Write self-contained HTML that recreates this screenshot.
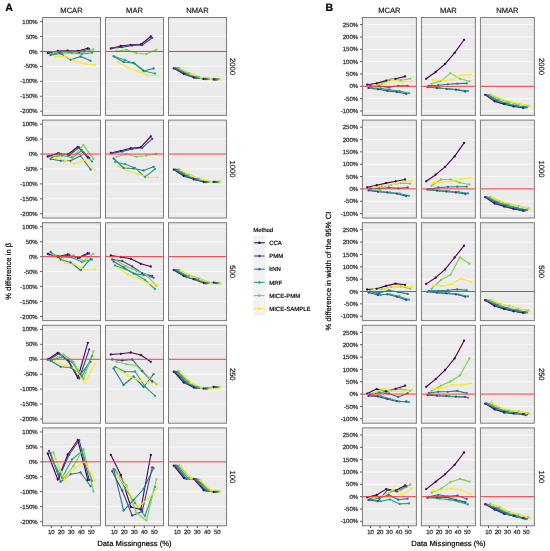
<!DOCTYPE html><html><head><meta charset="utf-8"><title>Figure</title><style>html,body{margin:0;padding:0;background:#fff;width:550px;height:551px;overflow:hidden}svg{display:block}text{font-family:"Liberation Sans", Arial, Helvetica, sans-serif;text-rendering:geometricPrecision}text{stroke-linejoin:round}.t{stroke:#3d3d3d;stroke-width:0.28}.s{stroke:#1A1A1A;stroke-width:0.2}.k{stroke:#000;stroke-width:0.18}</style></head><body>
<svg width="550" height="551" viewBox="0 0 550 551">
<rect width="550" height="551" fill="#fff"/>
<rect x="42.5" y="17.5" width="58" height="97.9" fill="#EBEBEB"/>
<line x1="42.5" x2="100.5" y1="21.57" y2="21.57" stroke="#FAFAFA" stroke-width="1"/>
<line x1="42.5" x2="100.5" y1="36.51" y2="36.51" stroke="#FAFAFA" stroke-width="1"/>
<line x1="42.5" x2="100.5" y1="51.45" y2="51.45" stroke="#FAFAFA" stroke-width="1"/>
<line x1="42.5" x2="100.5" y1="66.39" y2="66.39" stroke="#FAFAFA" stroke-width="1"/>
<line x1="42.5" x2="100.5" y1="81.33" y2="81.33" stroke="#FAFAFA" stroke-width="1"/>
<line x1="42.5" x2="100.5" y1="96.27" y2="96.27" stroke="#FAFAFA" stroke-width="1"/>
<line x1="42.5" x2="100.5" y1="111.21" y2="111.21" stroke="#FAFAFA" stroke-width="1"/>
<rect x="105.5" y="17.5" width="58" height="97.9" fill="#EBEBEB"/>
<line x1="105.5" x2="163.5" y1="21.57" y2="21.57" stroke="#FAFAFA" stroke-width="1"/>
<line x1="105.5" x2="163.5" y1="36.51" y2="36.51" stroke="#FAFAFA" stroke-width="1"/>
<line x1="105.5" x2="163.5" y1="51.45" y2="51.45" stroke="#FAFAFA" stroke-width="1"/>
<line x1="105.5" x2="163.5" y1="66.39" y2="66.39" stroke="#FAFAFA" stroke-width="1"/>
<line x1="105.5" x2="163.5" y1="81.33" y2="81.33" stroke="#FAFAFA" stroke-width="1"/>
<line x1="105.5" x2="163.5" y1="96.27" y2="96.27" stroke="#FAFAFA" stroke-width="1"/>
<line x1="105.5" x2="163.5" y1="111.21" y2="111.21" stroke="#FAFAFA" stroke-width="1"/>
<rect x="168.5" y="17.5" width="58" height="97.9" fill="#EBEBEB"/>
<line x1="168.5" x2="226.5" y1="21.57" y2="21.57" stroke="#FAFAFA" stroke-width="1"/>
<line x1="168.5" x2="226.5" y1="36.51" y2="36.51" stroke="#FAFAFA" stroke-width="1"/>
<line x1="168.5" x2="226.5" y1="51.45" y2="51.45" stroke="#FAFAFA" stroke-width="1"/>
<line x1="168.5" x2="226.5" y1="66.39" y2="66.39" stroke="#FAFAFA" stroke-width="1"/>
<line x1="168.5" x2="226.5" y1="81.33" y2="81.33" stroke="#FAFAFA" stroke-width="1"/>
<line x1="168.5" x2="226.5" y1="96.27" y2="96.27" stroke="#FAFAFA" stroke-width="1"/>
<line x1="168.5" x2="226.5" y1="111.21" y2="111.21" stroke="#FAFAFA" stroke-width="1"/>
<rect x="42.5" y="120.1" width="58" height="97.9" fill="#EBEBEB"/>
<line x1="42.5" x2="100.5" y1="124.17" y2="124.17" stroke="#FAFAFA" stroke-width="1"/>
<line x1="42.5" x2="100.5" y1="139.11" y2="139.11" stroke="#FAFAFA" stroke-width="1"/>
<line x1="42.5" x2="100.5" y1="154.05" y2="154.05" stroke="#FAFAFA" stroke-width="1"/>
<line x1="42.5" x2="100.5" y1="168.99" y2="168.99" stroke="#FAFAFA" stroke-width="1"/>
<line x1="42.5" x2="100.5" y1="183.93" y2="183.93" stroke="#FAFAFA" stroke-width="1"/>
<line x1="42.5" x2="100.5" y1="198.87" y2="198.87" stroke="#FAFAFA" stroke-width="1"/>
<line x1="42.5" x2="100.5" y1="213.81" y2="213.81" stroke="#FAFAFA" stroke-width="1"/>
<rect x="105.5" y="120.1" width="58" height="97.9" fill="#EBEBEB"/>
<line x1="105.5" x2="163.5" y1="124.17" y2="124.17" stroke="#FAFAFA" stroke-width="1"/>
<line x1="105.5" x2="163.5" y1="139.11" y2="139.11" stroke="#FAFAFA" stroke-width="1"/>
<line x1="105.5" x2="163.5" y1="154.05" y2="154.05" stroke="#FAFAFA" stroke-width="1"/>
<line x1="105.5" x2="163.5" y1="168.99" y2="168.99" stroke="#FAFAFA" stroke-width="1"/>
<line x1="105.5" x2="163.5" y1="183.93" y2="183.93" stroke="#FAFAFA" stroke-width="1"/>
<line x1="105.5" x2="163.5" y1="198.87" y2="198.87" stroke="#FAFAFA" stroke-width="1"/>
<line x1="105.5" x2="163.5" y1="213.81" y2="213.81" stroke="#FAFAFA" stroke-width="1"/>
<rect x="168.5" y="120.1" width="58" height="97.9" fill="#EBEBEB"/>
<line x1="168.5" x2="226.5" y1="124.17" y2="124.17" stroke="#FAFAFA" stroke-width="1"/>
<line x1="168.5" x2="226.5" y1="139.11" y2="139.11" stroke="#FAFAFA" stroke-width="1"/>
<line x1="168.5" x2="226.5" y1="154.05" y2="154.05" stroke="#FAFAFA" stroke-width="1"/>
<line x1="168.5" x2="226.5" y1="168.99" y2="168.99" stroke="#FAFAFA" stroke-width="1"/>
<line x1="168.5" x2="226.5" y1="183.93" y2="183.93" stroke="#FAFAFA" stroke-width="1"/>
<line x1="168.5" x2="226.5" y1="198.87" y2="198.87" stroke="#FAFAFA" stroke-width="1"/>
<line x1="168.5" x2="226.5" y1="213.81" y2="213.81" stroke="#FAFAFA" stroke-width="1"/>
<rect x="42.5" y="222.7" width="58" height="97.9" fill="#EBEBEB"/>
<line x1="42.5" x2="100.5" y1="226.77" y2="226.77" stroke="#FAFAFA" stroke-width="1"/>
<line x1="42.5" x2="100.5" y1="241.71" y2="241.71" stroke="#FAFAFA" stroke-width="1"/>
<line x1="42.5" x2="100.5" y1="256.65" y2="256.65" stroke="#FAFAFA" stroke-width="1"/>
<line x1="42.5" x2="100.5" y1="271.59" y2="271.59" stroke="#FAFAFA" stroke-width="1"/>
<line x1="42.5" x2="100.5" y1="286.53" y2="286.53" stroke="#FAFAFA" stroke-width="1"/>
<line x1="42.5" x2="100.5" y1="301.47" y2="301.47" stroke="#FAFAFA" stroke-width="1"/>
<line x1="42.5" x2="100.5" y1="316.41" y2="316.41" stroke="#FAFAFA" stroke-width="1"/>
<rect x="105.5" y="222.7" width="58" height="97.9" fill="#EBEBEB"/>
<line x1="105.5" x2="163.5" y1="226.77" y2="226.77" stroke="#FAFAFA" stroke-width="1"/>
<line x1="105.5" x2="163.5" y1="241.71" y2="241.71" stroke="#FAFAFA" stroke-width="1"/>
<line x1="105.5" x2="163.5" y1="256.65" y2="256.65" stroke="#FAFAFA" stroke-width="1"/>
<line x1="105.5" x2="163.5" y1="271.59" y2="271.59" stroke="#FAFAFA" stroke-width="1"/>
<line x1="105.5" x2="163.5" y1="286.53" y2="286.53" stroke="#FAFAFA" stroke-width="1"/>
<line x1="105.5" x2="163.5" y1="301.47" y2="301.47" stroke="#FAFAFA" stroke-width="1"/>
<line x1="105.5" x2="163.5" y1="316.41" y2="316.41" stroke="#FAFAFA" stroke-width="1"/>
<rect x="168.5" y="222.7" width="58" height="97.9" fill="#EBEBEB"/>
<line x1="168.5" x2="226.5" y1="226.77" y2="226.77" stroke="#FAFAFA" stroke-width="1"/>
<line x1="168.5" x2="226.5" y1="241.71" y2="241.71" stroke="#FAFAFA" stroke-width="1"/>
<line x1="168.5" x2="226.5" y1="256.65" y2="256.65" stroke="#FAFAFA" stroke-width="1"/>
<line x1="168.5" x2="226.5" y1="271.59" y2="271.59" stroke="#FAFAFA" stroke-width="1"/>
<line x1="168.5" x2="226.5" y1="286.53" y2="286.53" stroke="#FAFAFA" stroke-width="1"/>
<line x1="168.5" x2="226.5" y1="301.47" y2="301.47" stroke="#FAFAFA" stroke-width="1"/>
<line x1="168.5" x2="226.5" y1="316.41" y2="316.41" stroke="#FAFAFA" stroke-width="1"/>
<rect x="42.5" y="325.3" width="58" height="97.9" fill="#EBEBEB"/>
<line x1="42.5" x2="100.5" y1="329.37" y2="329.37" stroke="#FAFAFA" stroke-width="1"/>
<line x1="42.5" x2="100.5" y1="344.31" y2="344.31" stroke="#FAFAFA" stroke-width="1"/>
<line x1="42.5" x2="100.5" y1="359.25" y2="359.25" stroke="#FAFAFA" stroke-width="1"/>
<line x1="42.5" x2="100.5" y1="374.19" y2="374.19" stroke="#FAFAFA" stroke-width="1"/>
<line x1="42.5" x2="100.5" y1="389.13" y2="389.13" stroke="#FAFAFA" stroke-width="1"/>
<line x1="42.5" x2="100.5" y1="404.07" y2="404.07" stroke="#FAFAFA" stroke-width="1"/>
<line x1="42.5" x2="100.5" y1="419.01" y2="419.01" stroke="#FAFAFA" stroke-width="1"/>
<rect x="105.5" y="325.3" width="58" height="97.9" fill="#EBEBEB"/>
<line x1="105.5" x2="163.5" y1="329.37" y2="329.37" stroke="#FAFAFA" stroke-width="1"/>
<line x1="105.5" x2="163.5" y1="344.31" y2="344.31" stroke="#FAFAFA" stroke-width="1"/>
<line x1="105.5" x2="163.5" y1="359.25" y2="359.25" stroke="#FAFAFA" stroke-width="1"/>
<line x1="105.5" x2="163.5" y1="374.19" y2="374.19" stroke="#FAFAFA" stroke-width="1"/>
<line x1="105.5" x2="163.5" y1="389.13" y2="389.13" stroke="#FAFAFA" stroke-width="1"/>
<line x1="105.5" x2="163.5" y1="404.07" y2="404.07" stroke="#FAFAFA" stroke-width="1"/>
<line x1="105.5" x2="163.5" y1="419.01" y2="419.01" stroke="#FAFAFA" stroke-width="1"/>
<rect x="168.5" y="325.3" width="58" height="97.9" fill="#EBEBEB"/>
<line x1="168.5" x2="226.5" y1="329.37" y2="329.37" stroke="#FAFAFA" stroke-width="1"/>
<line x1="168.5" x2="226.5" y1="344.31" y2="344.31" stroke="#FAFAFA" stroke-width="1"/>
<line x1="168.5" x2="226.5" y1="359.25" y2="359.25" stroke="#FAFAFA" stroke-width="1"/>
<line x1="168.5" x2="226.5" y1="374.19" y2="374.19" stroke="#FAFAFA" stroke-width="1"/>
<line x1="168.5" x2="226.5" y1="389.13" y2="389.13" stroke="#FAFAFA" stroke-width="1"/>
<line x1="168.5" x2="226.5" y1="404.07" y2="404.07" stroke="#FAFAFA" stroke-width="1"/>
<line x1="168.5" x2="226.5" y1="419.01" y2="419.01" stroke="#FAFAFA" stroke-width="1"/>
<rect x="42.5" y="427.9" width="58" height="97.9" fill="#EBEBEB"/>
<line x1="42.5" x2="100.5" y1="431.97" y2="431.97" stroke="#FAFAFA" stroke-width="1"/>
<line x1="42.5" x2="100.5" y1="446.91" y2="446.91" stroke="#FAFAFA" stroke-width="1"/>
<line x1="42.5" x2="100.5" y1="461.85" y2="461.85" stroke="#FAFAFA" stroke-width="1"/>
<line x1="42.5" x2="100.5" y1="476.79" y2="476.79" stroke="#FAFAFA" stroke-width="1"/>
<line x1="42.5" x2="100.5" y1="491.73" y2="491.73" stroke="#FAFAFA" stroke-width="1"/>
<line x1="42.5" x2="100.5" y1="506.67" y2="506.67" stroke="#FAFAFA" stroke-width="1"/>
<line x1="42.5" x2="100.5" y1="521.61" y2="521.61" stroke="#FAFAFA" stroke-width="1"/>
<rect x="105.5" y="427.9" width="58" height="97.9" fill="#EBEBEB"/>
<line x1="105.5" x2="163.5" y1="431.97" y2="431.97" stroke="#FAFAFA" stroke-width="1"/>
<line x1="105.5" x2="163.5" y1="446.91" y2="446.91" stroke="#FAFAFA" stroke-width="1"/>
<line x1="105.5" x2="163.5" y1="461.85" y2="461.85" stroke="#FAFAFA" stroke-width="1"/>
<line x1="105.5" x2="163.5" y1="476.79" y2="476.79" stroke="#FAFAFA" stroke-width="1"/>
<line x1="105.5" x2="163.5" y1="491.73" y2="491.73" stroke="#FAFAFA" stroke-width="1"/>
<line x1="105.5" x2="163.5" y1="506.67" y2="506.67" stroke="#FAFAFA" stroke-width="1"/>
<line x1="105.5" x2="163.5" y1="521.61" y2="521.61" stroke="#FAFAFA" stroke-width="1"/>
<rect x="168.5" y="427.9" width="58" height="97.9" fill="#EBEBEB"/>
<line x1="168.5" x2="226.5" y1="431.97" y2="431.97" stroke="#FAFAFA" stroke-width="1"/>
<line x1="168.5" x2="226.5" y1="446.91" y2="446.91" stroke="#FAFAFA" stroke-width="1"/>
<line x1="168.5" x2="226.5" y1="461.85" y2="461.85" stroke="#FAFAFA" stroke-width="1"/>
<line x1="168.5" x2="226.5" y1="476.79" y2="476.79" stroke="#FAFAFA" stroke-width="1"/>
<line x1="168.5" x2="226.5" y1="491.73" y2="491.73" stroke="#FAFAFA" stroke-width="1"/>
<line x1="168.5" x2="226.5" y1="506.67" y2="506.67" stroke="#FAFAFA" stroke-width="1"/>
<line x1="168.5" x2="226.5" y1="521.61" y2="521.61" stroke="#FAFAFA" stroke-width="1"/>
<polyline fill="none" stroke="#440154" stroke-width="1.1" stroke-linejoin="round" points="47.8,53 57.8,51 67.8,50.7 77.8,51 87.8,48.3"/>
<polyline fill="none" stroke="#414487" stroke-width="1.1" stroke-linejoin="round" points="49.2,52.8 59.2,52 69.2,51.5 79.2,52 89.2,49"/>
<polyline fill="none" stroke="#2A788E" stroke-width="1.1" stroke-linejoin="round" points="50.6,55 60.6,53.5 70.6,59.8 80.6,56.5 90.6,60.8"/>
<polyline fill="none" stroke="#22A884" stroke-width="1.1" stroke-linejoin="round" points="52,54 62,53 72,53 82,54 92,52.8"/>
<polyline fill="none" stroke="#7AD151" stroke-width="1.1" stroke-linejoin="round" points="53.4,53 63.4,52.5 73.4,53 83.4,52.5 93.4,49.5"/>
<polyline fill="none" stroke="#FDE725" stroke-width="1.1" stroke-linejoin="round" points="54.8,56.7 64.8,56.2 74.8,61.2 84.8,63.7 94.8,65"/>
<circle cx="47.8" cy="53" r="1.15" fill="#440154"/>
<circle cx="57.8" cy="51" r="1.15" fill="#440154"/>
<circle cx="67.8" cy="50.7" r="1.15" fill="#440154"/>
<circle cx="77.8" cy="51" r="1.15" fill="#440154"/>
<circle cx="87.8" cy="48.3" r="1.15" fill="#440154"/>
<circle cx="49.2" cy="52.8" r="1.15" fill="#414487"/>
<circle cx="59.2" cy="52" r="1.15" fill="#414487"/>
<circle cx="69.2" cy="51.5" r="1.15" fill="#414487"/>
<circle cx="79.2" cy="52" r="1.15" fill="#414487"/>
<circle cx="89.2" cy="49" r="1.15" fill="#414487"/>
<circle cx="50.6" cy="55" r="1.15" fill="#2A788E"/>
<circle cx="60.6" cy="53.5" r="1.15" fill="#2A788E"/>
<circle cx="70.6" cy="59.8" r="1.15" fill="#2A788E"/>
<circle cx="80.6" cy="56.5" r="1.15" fill="#2A788E"/>
<circle cx="90.6" cy="60.8" r="1.15" fill="#2A788E"/>
<circle cx="52" cy="54" r="1.15" fill="#22A884"/>
<circle cx="62" cy="53" r="1.15" fill="#22A884"/>
<circle cx="72" cy="53" r="1.15" fill="#22A884"/>
<circle cx="82" cy="54" r="1.15" fill="#22A884"/>
<circle cx="92" cy="52.8" r="1.15" fill="#22A884"/>
<circle cx="53.4" cy="53" r="1.15" fill="#7AD151"/>
<circle cx="63.4" cy="52.5" r="1.15" fill="#7AD151"/>
<circle cx="73.4" cy="53" r="1.15" fill="#7AD151"/>
<circle cx="83.4" cy="52.5" r="1.15" fill="#7AD151"/>
<circle cx="93.4" cy="49.5" r="1.15" fill="#7AD151"/>
<circle cx="54.8" cy="56.7" r="1.15" fill="#FDE725"/>
<circle cx="64.8" cy="56.2" r="1.15" fill="#FDE725"/>
<circle cx="74.8" cy="61.2" r="1.15" fill="#FDE725"/>
<circle cx="84.8" cy="63.7" r="1.15" fill="#FDE725"/>
<circle cx="94.8" cy="65" r="1.15" fill="#FDE725"/>
<polyline fill="none" stroke="#440154" stroke-width="1.1" stroke-linejoin="round" points="110.8,48.5 120.8,46 130.8,44.8 140.8,44.5 150.8,36.5"/>
<polyline fill="none" stroke="#414487" stroke-width="1.1" stroke-linejoin="round" points="112.2,48.2 122.2,47.2 132.2,45.5 142.2,45 152.2,37.8"/>
<polyline fill="none" stroke="#2A788E" stroke-width="1.1" stroke-linejoin="round" points="113.6,56.2 123.6,62 133.6,63 143.6,71 153.6,68.5"/>
<polyline fill="none" stroke="#22A884" stroke-width="1.1" stroke-linejoin="round" points="115,56.8 125,60 135,64 145,71.2 155,73.5"/>
<polyline fill="none" stroke="#7AD151" stroke-width="1.1" stroke-linejoin="round" points="116.4,51.2 126.4,49.8 136.4,53.2 146.4,54 156.4,49.8"/>
<polyline fill="none" stroke="#FDE725" stroke-width="1.1" stroke-linejoin="round" points="117.8,62.2 127.8,67.5 137.8,71.5 147.8,75.2 157.8,75.8"/>
<circle cx="110.8" cy="48.5" r="1.15" fill="#440154"/>
<circle cx="120.8" cy="46" r="1.15" fill="#440154"/>
<circle cx="130.8" cy="44.8" r="1.15" fill="#440154"/>
<circle cx="140.8" cy="44.5" r="1.15" fill="#440154"/>
<circle cx="150.8" cy="36.5" r="1.15" fill="#440154"/>
<circle cx="112.2" cy="48.2" r="1.15" fill="#414487"/>
<circle cx="122.2" cy="47.2" r="1.15" fill="#414487"/>
<circle cx="132.2" cy="45.5" r="1.15" fill="#414487"/>
<circle cx="142.2" cy="45" r="1.15" fill="#414487"/>
<circle cx="152.2" cy="37.8" r="1.15" fill="#414487"/>
<circle cx="113.6" cy="56.2" r="1.15" fill="#2A788E"/>
<circle cx="123.6" cy="62" r="1.15" fill="#2A788E"/>
<circle cx="133.6" cy="63" r="1.15" fill="#2A788E"/>
<circle cx="143.6" cy="71" r="1.15" fill="#2A788E"/>
<circle cx="153.6" cy="68.5" r="1.15" fill="#2A788E"/>
<circle cx="115" cy="56.8" r="1.15" fill="#22A884"/>
<circle cx="125" cy="60" r="1.15" fill="#22A884"/>
<circle cx="135" cy="64" r="1.15" fill="#22A884"/>
<circle cx="145" cy="71.2" r="1.15" fill="#22A884"/>
<circle cx="155" cy="73.5" r="1.15" fill="#22A884"/>
<circle cx="116.4" cy="51.2" r="1.15" fill="#7AD151"/>
<circle cx="126.4" cy="49.8" r="1.15" fill="#7AD151"/>
<circle cx="136.4" cy="53.2" r="1.15" fill="#7AD151"/>
<circle cx="146.4" cy="54" r="1.15" fill="#7AD151"/>
<circle cx="156.4" cy="49.8" r="1.15" fill="#7AD151"/>
<circle cx="117.8" cy="62.2" r="1.15" fill="#FDE725"/>
<circle cx="127.8" cy="67.5" r="1.15" fill="#FDE725"/>
<circle cx="137.8" cy="71.5" r="1.15" fill="#FDE725"/>
<circle cx="147.8" cy="75.2" r="1.15" fill="#FDE725"/>
<circle cx="157.8" cy="75.8" r="1.15" fill="#FDE725"/>
<polyline fill="none" stroke="#440154" stroke-width="1.1" stroke-linejoin="round" points="173.8,68.39 183.8,73.93 193.8,77.48 203.8,78.96 213.8,79.48"/>
<polyline fill="none" stroke="#414487" stroke-width="1.1" stroke-linejoin="round" points="175.2,68.51 185.2,74.05 195.2,77.6 205.2,79.04 215.2,79.52"/>
<polyline fill="none" stroke="#2A788E" stroke-width="1.1" stroke-linejoin="round" points="176.6,68.59 186.6,74.13 196.6,77.68 206.6,79.12 216.6,79.6"/>
<polyline fill="none" stroke="#22A884" stroke-width="1.1" stroke-linejoin="round" points="178,68.27 188,73.73 198,77.36 208,78.88 218,79.36"/>
<polyline fill="none" stroke="#7AD151" stroke-width="1.1" stroke-linejoin="round" points="179.4,68.07 189.4,73.33 199.4,77.08 209.4,78.56 219.4,79.08"/>
<polyline fill="none" stroke="#FDE725" stroke-width="1.1" stroke-linejoin="round" points="180.8,68.87 190.8,74.13 200.8,77.6 210.8,79.04 220.8,79.76"/>
<circle cx="173.8" cy="68.39" r="1.15" fill="#440154"/>
<circle cx="183.8" cy="73.93" r="1.15" fill="#440154"/>
<circle cx="193.8" cy="77.48" r="1.15" fill="#440154"/>
<circle cx="203.8" cy="78.96" r="1.15" fill="#440154"/>
<circle cx="213.8" cy="79.48" r="1.15" fill="#440154"/>
<circle cx="175.2" cy="68.51" r="1.15" fill="#414487"/>
<circle cx="185.2" cy="74.05" r="1.15" fill="#414487"/>
<circle cx="195.2" cy="77.6" r="1.15" fill="#414487"/>
<circle cx="205.2" cy="79.04" r="1.15" fill="#414487"/>
<circle cx="215.2" cy="79.52" r="1.15" fill="#414487"/>
<circle cx="176.6" cy="68.59" r="1.15" fill="#2A788E"/>
<circle cx="186.6" cy="74.13" r="1.15" fill="#2A788E"/>
<circle cx="196.6" cy="77.68" r="1.15" fill="#2A788E"/>
<circle cx="206.6" cy="79.12" r="1.15" fill="#2A788E"/>
<circle cx="216.6" cy="79.6" r="1.15" fill="#2A788E"/>
<circle cx="178" cy="68.27" r="1.15" fill="#22A884"/>
<circle cx="188" cy="73.73" r="1.15" fill="#22A884"/>
<circle cx="198" cy="77.36" r="1.15" fill="#22A884"/>
<circle cx="208" cy="78.88" r="1.15" fill="#22A884"/>
<circle cx="218" cy="79.36" r="1.15" fill="#22A884"/>
<circle cx="179.4" cy="68.07" r="1.15" fill="#7AD151"/>
<circle cx="189.4" cy="73.33" r="1.15" fill="#7AD151"/>
<circle cx="199.4" cy="77.08" r="1.15" fill="#7AD151"/>
<circle cx="209.4" cy="78.56" r="1.15" fill="#7AD151"/>
<circle cx="219.4" cy="79.08" r="1.15" fill="#7AD151"/>
<circle cx="180.8" cy="68.87" r="1.15" fill="#FDE725"/>
<circle cx="190.8" cy="74.13" r="1.15" fill="#FDE725"/>
<circle cx="200.8" cy="77.6" r="1.15" fill="#FDE725"/>
<circle cx="210.8" cy="79.04" r="1.15" fill="#FDE725"/>
<circle cx="220.8" cy="79.76" r="1.15" fill="#FDE725"/>
<polyline fill="none" stroke="#440154" stroke-width="1.1" stroke-linejoin="round" points="47.8,156.5 57.8,153.3 67.8,154.5 77.8,146.8 87.8,157.5"/>
<polyline fill="none" stroke="#414487" stroke-width="1.1" stroke-linejoin="round" points="49.2,156.2 59.2,153.5 69.2,155 79.2,147.5 89.2,158"/>
<polyline fill="none" stroke="#2A788E" stroke-width="1.1" stroke-linejoin="round" points="50.6,159 60.6,160.8 70.6,160.8 80.6,155.8 90.6,169.5"/>
<polyline fill="none" stroke="#22A884" stroke-width="1.1" stroke-linejoin="round" points="52,157.2 62,155.5 72,157.5 82,150.5 92,161.5"/>
<polyline fill="none" stroke="#7AD151" stroke-width="1.1" stroke-linejoin="round" points="53.4,156.5 63.4,153.8 73.4,156.5 83.4,145.2 93.4,158.8"/>
<polyline fill="none" stroke="#FDE725" stroke-width="1.1" stroke-linejoin="round" points="54.8,158.2 64.8,160 74.8,164 84.8,159.8 94.8,170.2"/>
<circle cx="47.8" cy="156.5" r="1.15" fill="#440154"/>
<circle cx="57.8" cy="153.3" r="1.15" fill="#440154"/>
<circle cx="67.8" cy="154.5" r="1.15" fill="#440154"/>
<circle cx="77.8" cy="146.8" r="1.15" fill="#440154"/>
<circle cx="87.8" cy="157.5" r="1.15" fill="#440154"/>
<circle cx="49.2" cy="156.2" r="1.15" fill="#414487"/>
<circle cx="59.2" cy="153.5" r="1.15" fill="#414487"/>
<circle cx="69.2" cy="155" r="1.15" fill="#414487"/>
<circle cx="79.2" cy="147.5" r="1.15" fill="#414487"/>
<circle cx="89.2" cy="158" r="1.15" fill="#414487"/>
<circle cx="50.6" cy="159" r="1.15" fill="#2A788E"/>
<circle cx="60.6" cy="160.8" r="1.15" fill="#2A788E"/>
<circle cx="70.6" cy="160.8" r="1.15" fill="#2A788E"/>
<circle cx="80.6" cy="155.8" r="1.15" fill="#2A788E"/>
<circle cx="90.6" cy="169.5" r="1.15" fill="#2A788E"/>
<circle cx="52" cy="157.2" r="1.15" fill="#22A884"/>
<circle cx="62" cy="155.5" r="1.15" fill="#22A884"/>
<circle cx="72" cy="157.5" r="1.15" fill="#22A884"/>
<circle cx="82" cy="150.5" r="1.15" fill="#22A884"/>
<circle cx="92" cy="161.5" r="1.15" fill="#22A884"/>
<circle cx="53.4" cy="156.5" r="1.15" fill="#7AD151"/>
<circle cx="63.4" cy="153.8" r="1.15" fill="#7AD151"/>
<circle cx="73.4" cy="156.5" r="1.15" fill="#7AD151"/>
<circle cx="83.4" cy="145.2" r="1.15" fill="#7AD151"/>
<circle cx="93.4" cy="158.8" r="1.15" fill="#7AD151"/>
<circle cx="54.8" cy="158.2" r="1.15" fill="#FDE725"/>
<circle cx="64.8" cy="160" r="1.15" fill="#FDE725"/>
<circle cx="74.8" cy="164" r="1.15" fill="#FDE725"/>
<circle cx="84.8" cy="159.8" r="1.15" fill="#FDE725"/>
<circle cx="94.8" cy="170.2" r="1.15" fill="#FDE725"/>
<polyline fill="none" stroke="#440154" stroke-width="1.1" stroke-linejoin="round" points="110.8,153 120.8,150.8 130.8,148.2 140.8,147.2 150.8,136.5"/>
<polyline fill="none" stroke="#414487" stroke-width="1.1" stroke-linejoin="round" points="112.2,153.2 122.2,151.5 132.2,149 142.2,147.8 152.2,138.8"/>
<polyline fill="none" stroke="#2A788E" stroke-width="1.1" stroke-linejoin="round" points="113.6,158.5 123.6,168 133.6,168.5 143.6,170.5 153.6,166.8"/>
<polyline fill="none" stroke="#22A884" stroke-width="1.1" stroke-linejoin="round" points="115,161.8 125,164.2 135,167.8 145,177 155,169"/>
<polyline fill="none" stroke="#7AD151" stroke-width="1.1" stroke-linejoin="round" points="116.4,156.8 126.4,154.2 136.4,156.8 146.4,155.5 156.4,154"/>
<polyline fill="none" stroke="#FDE725" stroke-width="1.1" stroke-linejoin="round" points="117.8,166.2 127.8,170.8 137.8,174 147.8,177.2 157.8,177.5"/>
<circle cx="110.8" cy="153" r="1.15" fill="#440154"/>
<circle cx="120.8" cy="150.8" r="1.15" fill="#440154"/>
<circle cx="130.8" cy="148.2" r="1.15" fill="#440154"/>
<circle cx="140.8" cy="147.2" r="1.15" fill="#440154"/>
<circle cx="150.8" cy="136.5" r="1.15" fill="#440154"/>
<circle cx="112.2" cy="153.2" r="1.15" fill="#414487"/>
<circle cx="122.2" cy="151.5" r="1.15" fill="#414487"/>
<circle cx="132.2" cy="149" r="1.15" fill="#414487"/>
<circle cx="142.2" cy="147.8" r="1.15" fill="#414487"/>
<circle cx="152.2" cy="138.8" r="1.15" fill="#414487"/>
<circle cx="113.6" cy="158.5" r="1.15" fill="#2A788E"/>
<circle cx="123.6" cy="168" r="1.15" fill="#2A788E"/>
<circle cx="133.6" cy="168.5" r="1.15" fill="#2A788E"/>
<circle cx="143.6" cy="170.5" r="1.15" fill="#2A788E"/>
<circle cx="153.6" cy="166.8" r="1.15" fill="#2A788E"/>
<circle cx="115" cy="161.8" r="1.15" fill="#22A884"/>
<circle cx="125" cy="164.2" r="1.15" fill="#22A884"/>
<circle cx="135" cy="167.8" r="1.15" fill="#22A884"/>
<circle cx="145" cy="177" r="1.15" fill="#22A884"/>
<circle cx="155" cy="169" r="1.15" fill="#22A884"/>
<circle cx="116.4" cy="156.8" r="1.15" fill="#7AD151"/>
<circle cx="126.4" cy="154.2" r="1.15" fill="#7AD151"/>
<circle cx="136.4" cy="156.8" r="1.15" fill="#7AD151"/>
<circle cx="146.4" cy="155.5" r="1.15" fill="#7AD151"/>
<circle cx="156.4" cy="154" r="1.15" fill="#7AD151"/>
<circle cx="117.8" cy="166.2" r="1.15" fill="#FDE725"/>
<circle cx="127.8" cy="170.8" r="1.15" fill="#FDE725"/>
<circle cx="137.8" cy="174" r="1.15" fill="#FDE725"/>
<circle cx="147.8" cy="177.2" r="1.15" fill="#FDE725"/>
<circle cx="157.8" cy="177.5" r="1.15" fill="#FDE725"/>
<polyline fill="none" stroke="#440154" stroke-width="1.1" stroke-linejoin="round" points="173.8,169.62 183.8,175.93 193.8,179.33 203.8,182 213.8,182.02"/>
<polyline fill="none" stroke="#414487" stroke-width="1.1" stroke-linejoin="round" points="175.2,169.74 185.2,176.05 195.2,179.45 205.2,182.08 215.2,182.02"/>
<polyline fill="none" stroke="#2A788E" stroke-width="1.1" stroke-linejoin="round" points="176.6,169.82 186.6,176.17 196.6,179.53 206.6,182.2 216.6,182.18"/>
<polyline fill="none" stroke="#22A884" stroke-width="1.1" stroke-linejoin="round" points="178,169.58 188,175.65 198,179.13 208,181.92 218,181.94"/>
<polyline fill="none" stroke="#7AD151" stroke-width="1.1" stroke-linejoin="round" points="179.4,169.42 189.4,175.05 199.4,178.73 209.4,181.6 219.4,181.7"/>
<polyline fill="none" stroke="#FDE725" stroke-width="1.1" stroke-linejoin="round" points="180.8,170.02 190.8,175.65 200.8,179.13 210.8,182.2 220.8,182.34"/>
<circle cx="173.8" cy="169.62" r="1.15" fill="#440154"/>
<circle cx="183.8" cy="175.93" r="1.15" fill="#440154"/>
<circle cx="193.8" cy="179.33" r="1.15" fill="#440154"/>
<circle cx="203.8" cy="182" r="1.15" fill="#440154"/>
<circle cx="213.8" cy="182.02" r="1.15" fill="#440154"/>
<circle cx="175.2" cy="169.74" r="1.15" fill="#414487"/>
<circle cx="185.2" cy="176.05" r="1.15" fill="#414487"/>
<circle cx="195.2" cy="179.45" r="1.15" fill="#414487"/>
<circle cx="205.2" cy="182.08" r="1.15" fill="#414487"/>
<circle cx="215.2" cy="182.02" r="1.15" fill="#414487"/>
<circle cx="176.6" cy="169.82" r="1.15" fill="#2A788E"/>
<circle cx="186.6" cy="176.17" r="1.15" fill="#2A788E"/>
<circle cx="196.6" cy="179.53" r="1.15" fill="#2A788E"/>
<circle cx="206.6" cy="182.2" r="1.15" fill="#2A788E"/>
<circle cx="216.6" cy="182.18" r="1.15" fill="#2A788E"/>
<circle cx="178" cy="169.58" r="1.15" fill="#22A884"/>
<circle cx="188" cy="175.65" r="1.15" fill="#22A884"/>
<circle cx="198" cy="179.13" r="1.15" fill="#22A884"/>
<circle cx="208" cy="181.92" r="1.15" fill="#22A884"/>
<circle cx="218" cy="181.94" r="1.15" fill="#22A884"/>
<circle cx="179.4" cy="169.42" r="1.15" fill="#7AD151"/>
<circle cx="189.4" cy="175.05" r="1.15" fill="#7AD151"/>
<circle cx="199.4" cy="178.73" r="1.15" fill="#7AD151"/>
<circle cx="209.4" cy="181.6" r="1.15" fill="#7AD151"/>
<circle cx="219.4" cy="181.7" r="1.15" fill="#7AD151"/>
<circle cx="180.8" cy="170.02" r="1.15" fill="#FDE725"/>
<circle cx="190.8" cy="175.65" r="1.15" fill="#FDE725"/>
<circle cx="200.8" cy="179.13" r="1.15" fill="#FDE725"/>
<circle cx="210.8" cy="182.2" r="1.15" fill="#FDE725"/>
<circle cx="220.8" cy="182.34" r="1.15" fill="#FDE725"/>
<polyline fill="none" stroke="#440154" stroke-width="1.1" stroke-linejoin="round" points="47.8,253.8 57.8,256.5 67.8,254.5 77.8,258 87.8,253.2"/>
<polyline fill="none" stroke="#414487" stroke-width="1.1" stroke-linejoin="round" points="49.2,254.5 59.2,256.8 69.2,255 79.2,258 89.2,253.5"/>
<polyline fill="none" stroke="#2A788E" stroke-width="1.1" stroke-linejoin="round" points="50.6,252 60.6,259.5 70.6,262.5 80.6,270.2 90.6,259"/>
<polyline fill="none" stroke="#22A884" stroke-width="1.1" stroke-linejoin="round" points="52,254.5 62,257 72,257.5 82,262 92,259.5"/>
<polyline fill="none" stroke="#7AD151" stroke-width="1.1" stroke-linejoin="round" points="53.4,254.5 63.4,257 73.4,255.2 83.4,261 93.4,253.8"/>
<polyline fill="none" stroke="#FDE725" stroke-width="1.1" stroke-linejoin="round" points="54.8,256.8 64.8,263 74.8,264.2 84.8,269.8 94.8,269.5"/>
<circle cx="47.8" cy="253.8" r="1.15" fill="#440154"/>
<circle cx="57.8" cy="256.5" r="1.15" fill="#440154"/>
<circle cx="67.8" cy="254.5" r="1.15" fill="#440154"/>
<circle cx="77.8" cy="258" r="1.15" fill="#440154"/>
<circle cx="87.8" cy="253.2" r="1.15" fill="#440154"/>
<circle cx="49.2" cy="254.5" r="1.15" fill="#414487"/>
<circle cx="59.2" cy="256.8" r="1.15" fill="#414487"/>
<circle cx="69.2" cy="255" r="1.15" fill="#414487"/>
<circle cx="79.2" cy="258" r="1.15" fill="#414487"/>
<circle cx="89.2" cy="253.5" r="1.15" fill="#414487"/>
<circle cx="50.6" cy="252" r="1.15" fill="#2A788E"/>
<circle cx="60.6" cy="259.5" r="1.15" fill="#2A788E"/>
<circle cx="70.6" cy="262.5" r="1.15" fill="#2A788E"/>
<circle cx="80.6" cy="270.2" r="1.15" fill="#2A788E"/>
<circle cx="90.6" cy="259" r="1.15" fill="#2A788E"/>
<circle cx="52" cy="254.5" r="1.15" fill="#22A884"/>
<circle cx="62" cy="257" r="1.15" fill="#22A884"/>
<circle cx="72" cy="257.5" r="1.15" fill="#22A884"/>
<circle cx="82" cy="262" r="1.15" fill="#22A884"/>
<circle cx="92" cy="259.5" r="1.15" fill="#22A884"/>
<circle cx="53.4" cy="254.5" r="1.15" fill="#7AD151"/>
<circle cx="63.4" cy="257" r="1.15" fill="#7AD151"/>
<circle cx="73.4" cy="255.2" r="1.15" fill="#7AD151"/>
<circle cx="83.4" cy="261" r="1.15" fill="#7AD151"/>
<circle cx="93.4" cy="253.8" r="1.15" fill="#7AD151"/>
<circle cx="54.8" cy="256.8" r="1.15" fill="#FDE725"/>
<circle cx="64.8" cy="263" r="1.15" fill="#FDE725"/>
<circle cx="74.8" cy="264.2" r="1.15" fill="#FDE725"/>
<circle cx="84.8" cy="269.8" r="1.15" fill="#FDE725"/>
<circle cx="94.8" cy="269.5" r="1.15" fill="#FDE725"/>
<polyline fill="none" stroke="#440154" stroke-width="1.1" stroke-linejoin="round" points="110.8,255.5 120.8,257 130.8,258.8 140.8,263.8 150.8,266.5"/>
<polyline fill="none" stroke="#414487" stroke-width="1.1" stroke-linejoin="round" points="112.2,259.5 122.2,261 132.2,266.5 142.2,273.2 152.2,276"/>
<polyline fill="none" stroke="#2A788E" stroke-width="1.1" stroke-linejoin="round" points="113.6,261.5 123.6,267.2 133.6,273.5 143.6,275 153.6,277.8"/>
<polyline fill="none" stroke="#22A884" stroke-width="1.1" stroke-linejoin="round" points="115,265.5 125,269 135,274 145,279.8 155,289"/>
<polyline fill="none" stroke="#7AD151" stroke-width="1.1" stroke-linejoin="round" points="116.4,260.5 126.4,266.5 136.4,270.8 146.4,274.8 156.4,285.8"/>
<polyline fill="none" stroke="#FDE725" stroke-width="1.1" stroke-linejoin="round" points="117.8,267.8 127.8,274.5 137.8,278 147.8,283.5 157.8,284.8"/>
<circle cx="110.8" cy="255.5" r="1.15" fill="#440154"/>
<circle cx="120.8" cy="257" r="1.15" fill="#440154"/>
<circle cx="130.8" cy="258.8" r="1.15" fill="#440154"/>
<circle cx="140.8" cy="263.8" r="1.15" fill="#440154"/>
<circle cx="150.8" cy="266.5" r="1.15" fill="#440154"/>
<circle cx="112.2" cy="259.5" r="1.15" fill="#414487"/>
<circle cx="122.2" cy="261" r="1.15" fill="#414487"/>
<circle cx="132.2" cy="266.5" r="1.15" fill="#414487"/>
<circle cx="142.2" cy="273.2" r="1.15" fill="#414487"/>
<circle cx="152.2" cy="276" r="1.15" fill="#414487"/>
<circle cx="113.6" cy="261.5" r="1.15" fill="#2A788E"/>
<circle cx="123.6" cy="267.2" r="1.15" fill="#2A788E"/>
<circle cx="133.6" cy="273.5" r="1.15" fill="#2A788E"/>
<circle cx="143.6" cy="275" r="1.15" fill="#2A788E"/>
<circle cx="153.6" cy="277.8" r="1.15" fill="#2A788E"/>
<circle cx="115" cy="265.5" r="1.15" fill="#22A884"/>
<circle cx="125" cy="269" r="1.15" fill="#22A884"/>
<circle cx="135" cy="274" r="1.15" fill="#22A884"/>
<circle cx="145" cy="279.8" r="1.15" fill="#22A884"/>
<circle cx="155" cy="289" r="1.15" fill="#22A884"/>
<circle cx="116.4" cy="260.5" r="1.15" fill="#7AD151"/>
<circle cx="126.4" cy="266.5" r="1.15" fill="#7AD151"/>
<circle cx="136.4" cy="270.8" r="1.15" fill="#7AD151"/>
<circle cx="146.4" cy="274.8" r="1.15" fill="#7AD151"/>
<circle cx="156.4" cy="285.8" r="1.15" fill="#7AD151"/>
<circle cx="117.8" cy="267.8" r="1.15" fill="#FDE725"/>
<circle cx="127.8" cy="274.5" r="1.15" fill="#FDE725"/>
<circle cx="137.8" cy="278" r="1.15" fill="#FDE725"/>
<circle cx="147.8" cy="283.5" r="1.15" fill="#FDE725"/>
<circle cx="157.8" cy="284.8" r="1.15" fill="#FDE725"/>
<polyline fill="none" stroke="#440154" stroke-width="1.1" stroke-linejoin="round" points="173.8,270.07 183.8,275.97 193.8,279.2 203.8,283.07 213.8,282.53"/>
<polyline fill="none" stroke="#414487" stroke-width="1.1" stroke-linejoin="round" points="175.2,270.15 185.2,276.17 195.2,279.4 205.2,283.15 215.2,282.81"/>
<polyline fill="none" stroke="#2A788E" stroke-width="1.1" stroke-linejoin="round" points="176.6,270.35 186.6,277.05 196.6,279.8 206.6,283.47 216.6,283.21"/>
<polyline fill="none" stroke="#22A884" stroke-width="1.1" stroke-linejoin="round" points="178,270.23 188,276.37 198,279.4 208,283.07 218,283.01"/>
<polyline fill="none" stroke="#7AD151" stroke-width="1.1" stroke-linejoin="round" points="179.4,269.95 189.4,275.37 199.4,278.6 209.4,282.47 219.4,282.81"/>
<polyline fill="none" stroke="#FDE725" stroke-width="1.1" stroke-linejoin="round" points="180.8,270.75 190.8,276.77 200.8,279.6 210.8,283.47 220.8,283.73"/>
<circle cx="173.8" cy="270.07" r="1.15" fill="#440154"/>
<circle cx="183.8" cy="275.97" r="1.15" fill="#440154"/>
<circle cx="193.8" cy="279.2" r="1.15" fill="#440154"/>
<circle cx="203.8" cy="283.07" r="1.15" fill="#440154"/>
<circle cx="213.8" cy="282.53" r="1.15" fill="#440154"/>
<circle cx="175.2" cy="270.15" r="1.15" fill="#414487"/>
<circle cx="185.2" cy="276.17" r="1.15" fill="#414487"/>
<circle cx="195.2" cy="279.4" r="1.15" fill="#414487"/>
<circle cx="205.2" cy="283.15" r="1.15" fill="#414487"/>
<circle cx="215.2" cy="282.81" r="1.15" fill="#414487"/>
<circle cx="176.6" cy="270.35" r="1.15" fill="#2A788E"/>
<circle cx="186.6" cy="277.05" r="1.15" fill="#2A788E"/>
<circle cx="196.6" cy="279.8" r="1.15" fill="#2A788E"/>
<circle cx="206.6" cy="283.47" r="1.15" fill="#2A788E"/>
<circle cx="216.6" cy="283.21" r="1.15" fill="#2A788E"/>
<circle cx="178" cy="270.23" r="1.15" fill="#22A884"/>
<circle cx="188" cy="276.37" r="1.15" fill="#22A884"/>
<circle cx="198" cy="279.4" r="1.15" fill="#22A884"/>
<circle cx="208" cy="283.07" r="1.15" fill="#22A884"/>
<circle cx="218" cy="283.01" r="1.15" fill="#22A884"/>
<circle cx="179.4" cy="269.95" r="1.15" fill="#7AD151"/>
<circle cx="189.4" cy="275.37" r="1.15" fill="#7AD151"/>
<circle cx="199.4" cy="278.6" r="1.15" fill="#7AD151"/>
<circle cx="209.4" cy="282.47" r="1.15" fill="#7AD151"/>
<circle cx="219.4" cy="282.81" r="1.15" fill="#7AD151"/>
<circle cx="180.8" cy="270.75" r="1.15" fill="#FDE725"/>
<circle cx="190.8" cy="276.77" r="1.15" fill="#FDE725"/>
<circle cx="200.8" cy="279.6" r="1.15" fill="#FDE725"/>
<circle cx="210.8" cy="283.47" r="1.15" fill="#FDE725"/>
<circle cx="220.8" cy="283.73" r="1.15" fill="#FDE725"/>
<polyline fill="none" stroke="#440154" stroke-width="1.1" stroke-linejoin="round" points="47.8,359.5 57.8,352.8 67.8,360 77.8,378 87.8,342.8"/>
<polyline fill="none" stroke="#414487" stroke-width="1.1" stroke-linejoin="round" points="49.2,359.5 59.2,353.5 69.2,362 79.2,378.5 89.2,349.5"/>
<polyline fill="none" stroke="#2A788E" stroke-width="1.1" stroke-linejoin="round" points="50.6,360.8 60.6,366.8 70.6,367.5 80.6,374 90.6,361.8"/>
<polyline fill="none" stroke="#22A884" stroke-width="1.1" stroke-linejoin="round" points="52,360 62,357 72,362 82,376.5 92,356.2"/>
<polyline fill="none" stroke="#7AD151" stroke-width="1.1" stroke-linejoin="round" points="53.4,359 63.4,354.5 73.4,361.8 83.4,379 93.4,351.5"/>
<polyline fill="none" stroke="#FDE725" stroke-width="1.1" stroke-linejoin="round" points="54.8,361 64.8,365.5 74.8,368.5 84.8,383 94.8,364"/>
<circle cx="47.8" cy="359.5" r="1.15" fill="#440154"/>
<circle cx="57.8" cy="352.8" r="1.15" fill="#440154"/>
<circle cx="67.8" cy="360" r="1.15" fill="#440154"/>
<circle cx="77.8" cy="378" r="1.15" fill="#440154"/>
<circle cx="87.8" cy="342.8" r="1.15" fill="#440154"/>
<circle cx="49.2" cy="359.5" r="1.15" fill="#414487"/>
<circle cx="59.2" cy="353.5" r="1.15" fill="#414487"/>
<circle cx="69.2" cy="362" r="1.15" fill="#414487"/>
<circle cx="79.2" cy="378.5" r="1.15" fill="#414487"/>
<circle cx="89.2" cy="349.5" r="1.15" fill="#414487"/>
<circle cx="50.6" cy="360.8" r="1.15" fill="#2A788E"/>
<circle cx="60.6" cy="366.8" r="1.15" fill="#2A788E"/>
<circle cx="70.6" cy="367.5" r="1.15" fill="#2A788E"/>
<circle cx="80.6" cy="374" r="1.15" fill="#2A788E"/>
<circle cx="90.6" cy="361.8" r="1.15" fill="#2A788E"/>
<circle cx="52" cy="360" r="1.15" fill="#22A884"/>
<circle cx="62" cy="357" r="1.15" fill="#22A884"/>
<circle cx="72" cy="362" r="1.15" fill="#22A884"/>
<circle cx="82" cy="376.5" r="1.15" fill="#22A884"/>
<circle cx="92" cy="356.2" r="1.15" fill="#22A884"/>
<circle cx="53.4" cy="359" r="1.15" fill="#7AD151"/>
<circle cx="63.4" cy="354.5" r="1.15" fill="#7AD151"/>
<circle cx="73.4" cy="361.8" r="1.15" fill="#7AD151"/>
<circle cx="83.4" cy="379" r="1.15" fill="#7AD151"/>
<circle cx="93.4" cy="351.5" r="1.15" fill="#7AD151"/>
<circle cx="54.8" cy="361" r="1.15" fill="#FDE725"/>
<circle cx="64.8" cy="365.5" r="1.15" fill="#FDE725"/>
<circle cx="74.8" cy="368.5" r="1.15" fill="#FDE725"/>
<circle cx="84.8" cy="383" r="1.15" fill="#FDE725"/>
<circle cx="94.8" cy="364" r="1.15" fill="#FDE725"/>
<polyline fill="none" stroke="#440154" stroke-width="1.1" stroke-linejoin="round" points="110.8,354.5 120.8,353.8 130.8,352.5 140.8,355 150.8,361.8"/>
<polyline fill="none" stroke="#414487" stroke-width="1.1" stroke-linejoin="round" points="112.2,359.5 122.2,360.5 132.2,359.5 142.2,371 152.2,381.5"/>
<polyline fill="none" stroke="#2A788E" stroke-width="1.1" stroke-linejoin="round" points="113.6,368.5 123.6,385 133.6,376.5 143.6,387 153.6,374.2"/>
<polyline fill="none" stroke="#22A884" stroke-width="1.1" stroke-linejoin="round" points="115,366.8 125,371.8 135,371.5 145,386.5 155,395.8"/>
<polyline fill="none" stroke="#7AD151" stroke-width="1.1" stroke-linejoin="round" points="116.4,361.8 126.4,364.2 136.4,365.5 146.4,375.8 156.4,384"/>
<polyline fill="none" stroke="#FDE725" stroke-width="1.1" stroke-linejoin="round" points="117.8,369.5 127.8,375.5 137.8,379.5 147.8,383 157.8,384"/>
<circle cx="110.8" cy="354.5" r="1.15" fill="#440154"/>
<circle cx="120.8" cy="353.8" r="1.15" fill="#440154"/>
<circle cx="130.8" cy="352.5" r="1.15" fill="#440154"/>
<circle cx="140.8" cy="355" r="1.15" fill="#440154"/>
<circle cx="150.8" cy="361.8" r="1.15" fill="#440154"/>
<circle cx="112.2" cy="359.5" r="1.15" fill="#414487"/>
<circle cx="122.2" cy="360.5" r="1.15" fill="#414487"/>
<circle cx="132.2" cy="359.5" r="1.15" fill="#414487"/>
<circle cx="142.2" cy="371" r="1.15" fill="#414487"/>
<circle cx="152.2" cy="381.5" r="1.15" fill="#414487"/>
<circle cx="113.6" cy="368.5" r="1.15" fill="#2A788E"/>
<circle cx="123.6" cy="385" r="1.15" fill="#2A788E"/>
<circle cx="133.6" cy="376.5" r="1.15" fill="#2A788E"/>
<circle cx="143.6" cy="387" r="1.15" fill="#2A788E"/>
<circle cx="153.6" cy="374.2" r="1.15" fill="#2A788E"/>
<circle cx="115" cy="366.8" r="1.15" fill="#22A884"/>
<circle cx="125" cy="371.8" r="1.15" fill="#22A884"/>
<circle cx="135" cy="371.5" r="1.15" fill="#22A884"/>
<circle cx="145" cy="386.5" r="1.15" fill="#22A884"/>
<circle cx="155" cy="395.8" r="1.15" fill="#22A884"/>
<circle cx="116.4" cy="361.8" r="1.15" fill="#7AD151"/>
<circle cx="126.4" cy="364.2" r="1.15" fill="#7AD151"/>
<circle cx="136.4" cy="365.5" r="1.15" fill="#7AD151"/>
<circle cx="146.4" cy="375.8" r="1.15" fill="#7AD151"/>
<circle cx="156.4" cy="384" r="1.15" fill="#7AD151"/>
<circle cx="117.8" cy="369.5" r="1.15" fill="#FDE725"/>
<circle cx="127.8" cy="375.5" r="1.15" fill="#FDE725"/>
<circle cx="137.8" cy="379.5" r="1.15" fill="#FDE725"/>
<circle cx="147.8" cy="383" r="1.15" fill="#FDE725"/>
<circle cx="157.8" cy="384" r="1.15" fill="#FDE725"/>
<polyline fill="none" stroke="#440154" stroke-width="1.1" stroke-linejoin="round" points="173.8,371.73 183.8,382.56 193.8,387.61 203.8,388.61 213.8,386.98"/>
<polyline fill="none" stroke="#414487" stroke-width="1.1" stroke-linejoin="round" points="175.2,371.85 185.2,382.48 195.2,387.53 205.2,388.53 215.2,387.06"/>
<polyline fill="none" stroke="#2A788E" stroke-width="1.1" stroke-linejoin="round" points="176.6,371.93 186.6,382.64 196.6,387.69 206.6,388.69 216.6,387.14"/>
<polyline fill="none" stroke="#22A884" stroke-width="1.1" stroke-linejoin="round" points="178,371.77 188,382.24 198,387.29 208,388.29 218,387.06"/>
<polyline fill="none" stroke="#7AD151" stroke-width="1.1" stroke-linejoin="round" points="179.4,371.61 189.4,381.84 199.4,387.09 209.4,388.09 219.4,386.98"/>
<polyline fill="none" stroke="#FDE725" stroke-width="1.1" stroke-linejoin="round" points="180.8,372.41 190.8,382.64 200.8,387.69 210.8,388.69 220.8,387.38"/>
<circle cx="173.8" cy="371.73" r="1.15" fill="#440154"/>
<circle cx="183.8" cy="382.56" r="1.15" fill="#440154"/>
<circle cx="193.8" cy="387.61" r="1.15" fill="#440154"/>
<circle cx="203.8" cy="388.61" r="1.15" fill="#440154"/>
<circle cx="213.8" cy="386.98" r="1.15" fill="#440154"/>
<circle cx="175.2" cy="371.85" r="1.15" fill="#414487"/>
<circle cx="185.2" cy="382.48" r="1.15" fill="#414487"/>
<circle cx="195.2" cy="387.53" r="1.15" fill="#414487"/>
<circle cx="205.2" cy="388.53" r="1.15" fill="#414487"/>
<circle cx="215.2" cy="387.06" r="1.15" fill="#414487"/>
<circle cx="176.6" cy="371.93" r="1.15" fill="#2A788E"/>
<circle cx="186.6" cy="382.64" r="1.15" fill="#2A788E"/>
<circle cx="196.6" cy="387.69" r="1.15" fill="#2A788E"/>
<circle cx="206.6" cy="388.69" r="1.15" fill="#2A788E"/>
<circle cx="216.6" cy="387.14" r="1.15" fill="#2A788E"/>
<circle cx="178" cy="371.77" r="1.15" fill="#22A884"/>
<circle cx="188" cy="382.24" r="1.15" fill="#22A884"/>
<circle cx="198" cy="387.29" r="1.15" fill="#22A884"/>
<circle cx="208" cy="388.29" r="1.15" fill="#22A884"/>
<circle cx="218" cy="387.06" r="1.15" fill="#22A884"/>
<circle cx="179.4" cy="371.61" r="1.15" fill="#7AD151"/>
<circle cx="189.4" cy="381.84" r="1.15" fill="#7AD151"/>
<circle cx="199.4" cy="387.09" r="1.15" fill="#7AD151"/>
<circle cx="209.4" cy="388.09" r="1.15" fill="#7AD151"/>
<circle cx="219.4" cy="386.98" r="1.15" fill="#7AD151"/>
<circle cx="180.8" cy="372.41" r="1.15" fill="#FDE725"/>
<circle cx="190.8" cy="382.64" r="1.15" fill="#FDE725"/>
<circle cx="200.8" cy="387.69" r="1.15" fill="#FDE725"/>
<circle cx="210.8" cy="388.69" r="1.15" fill="#FDE725"/>
<circle cx="220.8" cy="387.38" r="1.15" fill="#FDE725"/>
<polyline fill="none" stroke="#440154" stroke-width="1.1" stroke-linejoin="round" points="47.8,453.5 57.8,479.5 67.8,454.5 77.8,440 87.8,480"/>
<polyline fill="none" stroke="#414487" stroke-width="1.1" stroke-linejoin="round" points="49.2,451 59.2,477 69.2,454.5 79.2,440.2 89.2,480"/>
<polyline fill="none" stroke="#2A788E" stroke-width="1.1" stroke-linejoin="round" points="50.6,453.5 60.6,481.8 70.6,474.2 80.6,472.5 90.6,486.2"/>
<polyline fill="none" stroke="#22A884" stroke-width="1.1" stroke-linejoin="round" points="52,459.5 62,478 72,459.5 82,451.2 92,480.8"/>
<polyline fill="none" stroke="#7AD151" stroke-width="1.1" stroke-linejoin="round" points="53.4,452.5 63.4,479 73.4,466 83.4,449.2 93.4,491.5"/>
<polyline fill="none" stroke="#FDE725" stroke-width="1.1" stroke-linejoin="round" points="54.8,456.8 64.8,479.5 74.8,468.2 84.8,461.8 94.8,480.5"/>
<circle cx="47.8" cy="453.5" r="1.15" fill="#440154"/>
<circle cx="57.8" cy="479.5" r="1.15" fill="#440154"/>
<circle cx="67.8" cy="454.5" r="1.15" fill="#440154"/>
<circle cx="77.8" cy="440" r="1.15" fill="#440154"/>
<circle cx="87.8" cy="480" r="1.15" fill="#440154"/>
<circle cx="49.2" cy="451" r="1.15" fill="#414487"/>
<circle cx="59.2" cy="477" r="1.15" fill="#414487"/>
<circle cx="69.2" cy="454.5" r="1.15" fill="#414487"/>
<circle cx="79.2" cy="440.2" r="1.15" fill="#414487"/>
<circle cx="89.2" cy="480" r="1.15" fill="#414487"/>
<circle cx="50.6" cy="453.5" r="1.15" fill="#2A788E"/>
<circle cx="60.6" cy="481.8" r="1.15" fill="#2A788E"/>
<circle cx="70.6" cy="474.2" r="1.15" fill="#2A788E"/>
<circle cx="80.6" cy="472.5" r="1.15" fill="#2A788E"/>
<circle cx="90.6" cy="486.2" r="1.15" fill="#2A788E"/>
<circle cx="52" cy="459.5" r="1.15" fill="#22A884"/>
<circle cx="62" cy="478" r="1.15" fill="#22A884"/>
<circle cx="72" cy="459.5" r="1.15" fill="#22A884"/>
<circle cx="82" cy="451.2" r="1.15" fill="#22A884"/>
<circle cx="92" cy="480.8" r="1.15" fill="#22A884"/>
<circle cx="53.4" cy="452.5" r="1.15" fill="#7AD151"/>
<circle cx="63.4" cy="479" r="1.15" fill="#7AD151"/>
<circle cx="73.4" cy="466" r="1.15" fill="#7AD151"/>
<circle cx="83.4" cy="449.2" r="1.15" fill="#7AD151"/>
<circle cx="93.4" cy="491.5" r="1.15" fill="#7AD151"/>
<circle cx="54.8" cy="456.8" r="1.15" fill="#FDE725"/>
<circle cx="64.8" cy="479.5" r="1.15" fill="#FDE725"/>
<circle cx="74.8" cy="468.2" r="1.15" fill="#FDE725"/>
<circle cx="84.8" cy="461.8" r="1.15" fill="#FDE725"/>
<circle cx="94.8" cy="480.5" r="1.15" fill="#FDE725"/>
<polyline fill="none" stroke="#440154" stroke-width="1.1" stroke-linejoin="round" points="110.8,454.8 120.8,475 130.8,507 140.8,509.5 150.8,455"/>
<polyline fill="none" stroke="#414487" stroke-width="1.1" stroke-linejoin="round" points="112.2,471.2 122.2,490.5 132.2,515.5 142.2,511.5 152.2,467.5"/>
<polyline fill="none" stroke="#2A788E" stroke-width="1.1" stroke-linejoin="round" points="113.6,469 123.6,510.5 133.6,500 143.6,489 153.6,468"/>
<polyline fill="none" stroke="#22A884" stroke-width="1.1" stroke-linejoin="round" points="115,470 125,488 135,503 145,516 155,486.8"/>
<polyline fill="none" stroke="#7AD151" stroke-width="1.1" stroke-linejoin="round" points="116.4,471.5 126.4,485.5 136.4,513 146.4,520.5 156.4,479.5"/>
<polyline fill="none" stroke="#FDE725" stroke-width="1.1" stroke-linejoin="round" points="117.8,475.5 127.8,490 137.8,507 147.8,499 157.8,487.8"/>
<circle cx="110.8" cy="454.8" r="1.15" fill="#440154"/>
<circle cx="120.8" cy="475" r="1.15" fill="#440154"/>
<circle cx="130.8" cy="507" r="1.15" fill="#440154"/>
<circle cx="140.8" cy="509.5" r="1.15" fill="#440154"/>
<circle cx="150.8" cy="455" r="1.15" fill="#440154"/>
<circle cx="112.2" cy="471.2" r="1.15" fill="#414487"/>
<circle cx="122.2" cy="490.5" r="1.15" fill="#414487"/>
<circle cx="132.2" cy="515.5" r="1.15" fill="#414487"/>
<circle cx="142.2" cy="511.5" r="1.15" fill="#414487"/>
<circle cx="152.2" cy="467.5" r="1.15" fill="#414487"/>
<circle cx="113.6" cy="469" r="1.15" fill="#2A788E"/>
<circle cx="123.6" cy="510.5" r="1.15" fill="#2A788E"/>
<circle cx="133.6" cy="500" r="1.15" fill="#2A788E"/>
<circle cx="143.6" cy="489" r="1.15" fill="#2A788E"/>
<circle cx="153.6" cy="468" r="1.15" fill="#2A788E"/>
<circle cx="115" cy="470" r="1.15" fill="#22A884"/>
<circle cx="125" cy="488" r="1.15" fill="#22A884"/>
<circle cx="135" cy="503" r="1.15" fill="#22A884"/>
<circle cx="145" cy="516" r="1.15" fill="#22A884"/>
<circle cx="155" cy="486.8" r="1.15" fill="#22A884"/>
<circle cx="116.4" cy="471.5" r="1.15" fill="#7AD151"/>
<circle cx="126.4" cy="485.5" r="1.15" fill="#7AD151"/>
<circle cx="136.4" cy="513" r="1.15" fill="#7AD151"/>
<circle cx="146.4" cy="520.5" r="1.15" fill="#7AD151"/>
<circle cx="156.4" cy="479.5" r="1.15" fill="#7AD151"/>
<circle cx="117.8" cy="475.5" r="1.15" fill="#FDE725"/>
<circle cx="127.8" cy="490" r="1.15" fill="#FDE725"/>
<circle cx="137.8" cy="507" r="1.15" fill="#FDE725"/>
<circle cx="147.8" cy="499" r="1.15" fill="#FDE725"/>
<circle cx="157.8" cy="487.8" r="1.15" fill="#FDE725"/>
<polyline fill="none" stroke="#440154" stroke-width="1.1" stroke-linejoin="round" points="173.8,465.65 183.8,478.1 193.8,478.86 203.8,490.27 213.8,491.96"/>
<polyline fill="none" stroke="#414487" stroke-width="1.1" stroke-linejoin="round" points="175.2,465.77 185.2,478.38 195.2,479.14 205.2,490.39 215.2,491.96"/>
<polyline fill="none" stroke="#2A788E" stroke-width="1.1" stroke-linejoin="round" points="176.6,465.93 186.6,478.98 196.6,479.34 206.6,490.59 216.6,491.88"/>
<polyline fill="none" stroke="#22A884" stroke-width="1.1" stroke-linejoin="round" points="178,465.85 188,478.38 198,479.66 208,490.27 218,491.72"/>
<polyline fill="none" stroke="#7AD151" stroke-width="1.1" stroke-linejoin="round" points="179.4,465.45 189.4,477.58 199.4,479.94 209.4,489.99 219.4,491.48"/>
<polyline fill="none" stroke="#FDE725" stroke-width="1.1" stroke-linejoin="round" points="180.8,465.85 190.8,478.38 200.8,480.46 210.8,490.39 220.8,491.8"/>
<circle cx="173.8" cy="465.65" r="1.15" fill="#440154"/>
<circle cx="183.8" cy="478.1" r="1.15" fill="#440154"/>
<circle cx="193.8" cy="478.86" r="1.15" fill="#440154"/>
<circle cx="203.8" cy="490.27" r="1.15" fill="#440154"/>
<circle cx="213.8" cy="491.96" r="1.15" fill="#440154"/>
<circle cx="175.2" cy="465.77" r="1.15" fill="#414487"/>
<circle cx="185.2" cy="478.38" r="1.15" fill="#414487"/>
<circle cx="195.2" cy="479.14" r="1.15" fill="#414487"/>
<circle cx="205.2" cy="490.39" r="1.15" fill="#414487"/>
<circle cx="215.2" cy="491.96" r="1.15" fill="#414487"/>
<circle cx="176.6" cy="465.93" r="1.15" fill="#2A788E"/>
<circle cx="186.6" cy="478.98" r="1.15" fill="#2A788E"/>
<circle cx="196.6" cy="479.34" r="1.15" fill="#2A788E"/>
<circle cx="206.6" cy="490.59" r="1.15" fill="#2A788E"/>
<circle cx="216.6" cy="491.88" r="1.15" fill="#2A788E"/>
<circle cx="178" cy="465.85" r="1.15" fill="#22A884"/>
<circle cx="188" cy="478.38" r="1.15" fill="#22A884"/>
<circle cx="198" cy="479.66" r="1.15" fill="#22A884"/>
<circle cx="208" cy="490.27" r="1.15" fill="#22A884"/>
<circle cx="218" cy="491.72" r="1.15" fill="#22A884"/>
<circle cx="179.4" cy="465.45" r="1.15" fill="#7AD151"/>
<circle cx="189.4" cy="477.58" r="1.15" fill="#7AD151"/>
<circle cx="199.4" cy="479.94" r="1.15" fill="#7AD151"/>
<circle cx="209.4" cy="489.99" r="1.15" fill="#7AD151"/>
<circle cx="219.4" cy="491.48" r="1.15" fill="#7AD151"/>
<circle cx="180.8" cy="465.85" r="1.15" fill="#FDE725"/>
<circle cx="190.8" cy="478.38" r="1.15" fill="#FDE725"/>
<circle cx="200.8" cy="480.46" r="1.15" fill="#FDE725"/>
<circle cx="210.8" cy="490.39" r="1.15" fill="#FDE725"/>
<circle cx="220.8" cy="491.8" r="1.15" fill="#FDE725"/>
<line x1="42.5" x2="100.5" y1="51.45" y2="51.45" stroke="#F2343C" stroke-width="1"/>
<rect x="42.5" y="17.5" width="58" height="97.9" fill="none" stroke="#7d7d7d" stroke-width="1"/>
<line x1="105.5" x2="163.5" y1="51.45" y2="51.45" stroke="#F2343C" stroke-width="1"/>
<rect x="105.5" y="17.5" width="58" height="97.9" fill="none" stroke="#7d7d7d" stroke-width="1"/>
<line x1="168.5" x2="226.5" y1="51.45" y2="51.45" stroke="#F2343C" stroke-width="1"/>
<rect x="168.5" y="17.5" width="58" height="97.9" fill="none" stroke="#7d7d7d" stroke-width="1"/>
<line x1="42.5" x2="100.5" y1="154.05" y2="154.05" stroke="#F2343C" stroke-width="1"/>
<rect x="42.5" y="120.1" width="58" height="97.9" fill="none" stroke="#7d7d7d" stroke-width="1"/>
<line x1="105.5" x2="163.5" y1="154.05" y2="154.05" stroke="#F2343C" stroke-width="1"/>
<rect x="105.5" y="120.1" width="58" height="97.9" fill="none" stroke="#7d7d7d" stroke-width="1"/>
<line x1="168.5" x2="226.5" y1="154.05" y2="154.05" stroke="#F2343C" stroke-width="1"/>
<rect x="168.5" y="120.1" width="58" height="97.9" fill="none" stroke="#7d7d7d" stroke-width="1"/>
<line x1="42.5" x2="100.5" y1="256.65" y2="256.65" stroke="#F2343C" stroke-width="1"/>
<rect x="42.5" y="222.7" width="58" height="97.9" fill="none" stroke="#7d7d7d" stroke-width="1"/>
<line x1="105.5" x2="163.5" y1="256.65" y2="256.65" stroke="#F2343C" stroke-width="1"/>
<rect x="105.5" y="222.7" width="58" height="97.9" fill="none" stroke="#7d7d7d" stroke-width="1"/>
<line x1="168.5" x2="226.5" y1="256.65" y2="256.65" stroke="#F2343C" stroke-width="1"/>
<rect x="168.5" y="222.7" width="58" height="97.9" fill="none" stroke="#7d7d7d" stroke-width="1"/>
<line x1="42.5" x2="100.5" y1="359.25" y2="359.25" stroke="#F2343C" stroke-width="1"/>
<rect x="42.5" y="325.3" width="58" height="97.9" fill="none" stroke="#7d7d7d" stroke-width="1"/>
<line x1="105.5" x2="163.5" y1="359.25" y2="359.25" stroke="#F2343C" stroke-width="1"/>
<rect x="105.5" y="325.3" width="58" height="97.9" fill="none" stroke="#7d7d7d" stroke-width="1"/>
<line x1="168.5" x2="226.5" y1="359.25" y2="359.25" stroke="#F2343C" stroke-width="1"/>
<rect x="168.5" y="325.3" width="58" height="97.9" fill="none" stroke="#7d7d7d" stroke-width="1"/>
<line x1="42.5" x2="100.5" y1="461.85" y2="461.85" stroke="#F2343C" stroke-width="1"/>
<rect x="42.5" y="427.9" width="58" height="97.9" fill="none" stroke="#7d7d7d" stroke-width="1"/>
<line x1="105.5" x2="163.5" y1="461.85" y2="461.85" stroke="#F2343C" stroke-width="1"/>
<rect x="105.5" y="427.9" width="58" height="97.9" fill="none" stroke="#7d7d7d" stroke-width="1"/>
<line x1="168.5" x2="226.5" y1="461.85" y2="461.85" stroke="#F2343C" stroke-width="1"/>
<rect x="168.5" y="427.9" width="58" height="97.9" fill="none" stroke="#7d7d7d" stroke-width="1"/>
<rect x="362.4" y="17.5" width="54" height="97.9" fill="#EBEBEB"/>
<line x1="362.4" x2="416.4" y1="24.6" y2="24.6" stroke="#FAFAFA" stroke-width="1"/>
<line x1="362.4" x2="416.4" y1="36.94" y2="36.94" stroke="#FAFAFA" stroke-width="1"/>
<line x1="362.4" x2="416.4" y1="49.28" y2="49.28" stroke="#FAFAFA" stroke-width="1"/>
<line x1="362.4" x2="416.4" y1="61.62" y2="61.62" stroke="#FAFAFA" stroke-width="1"/>
<line x1="362.4" x2="416.4" y1="73.96" y2="73.96" stroke="#FAFAFA" stroke-width="1"/>
<line x1="362.4" x2="416.4" y1="86.3" y2="86.3" stroke="#FAFAFA" stroke-width="1"/>
<line x1="362.4" x2="416.4" y1="98.64" y2="98.64" stroke="#FAFAFA" stroke-width="1"/>
<line x1="362.4" x2="416.4" y1="110.98" y2="110.98" stroke="#FAFAFA" stroke-width="1"/>
<rect x="421.4" y="17.5" width="54" height="97.9" fill="#EBEBEB"/>
<line x1="421.4" x2="475.4" y1="24.6" y2="24.6" stroke="#FAFAFA" stroke-width="1"/>
<line x1="421.4" x2="475.4" y1="36.94" y2="36.94" stroke="#FAFAFA" stroke-width="1"/>
<line x1="421.4" x2="475.4" y1="49.28" y2="49.28" stroke="#FAFAFA" stroke-width="1"/>
<line x1="421.4" x2="475.4" y1="61.62" y2="61.62" stroke="#FAFAFA" stroke-width="1"/>
<line x1="421.4" x2="475.4" y1="73.96" y2="73.96" stroke="#FAFAFA" stroke-width="1"/>
<line x1="421.4" x2="475.4" y1="86.3" y2="86.3" stroke="#FAFAFA" stroke-width="1"/>
<line x1="421.4" x2="475.4" y1="98.64" y2="98.64" stroke="#FAFAFA" stroke-width="1"/>
<line x1="421.4" x2="475.4" y1="110.98" y2="110.98" stroke="#FAFAFA" stroke-width="1"/>
<rect x="480.4" y="17.5" width="54" height="97.9" fill="#EBEBEB"/>
<line x1="480.4" x2="534.4" y1="24.6" y2="24.6" stroke="#FAFAFA" stroke-width="1"/>
<line x1="480.4" x2="534.4" y1="36.94" y2="36.94" stroke="#FAFAFA" stroke-width="1"/>
<line x1="480.4" x2="534.4" y1="49.28" y2="49.28" stroke="#FAFAFA" stroke-width="1"/>
<line x1="480.4" x2="534.4" y1="61.62" y2="61.62" stroke="#FAFAFA" stroke-width="1"/>
<line x1="480.4" x2="534.4" y1="73.96" y2="73.96" stroke="#FAFAFA" stroke-width="1"/>
<line x1="480.4" x2="534.4" y1="86.3" y2="86.3" stroke="#FAFAFA" stroke-width="1"/>
<line x1="480.4" x2="534.4" y1="98.64" y2="98.64" stroke="#FAFAFA" stroke-width="1"/>
<line x1="480.4" x2="534.4" y1="110.98" y2="110.98" stroke="#FAFAFA" stroke-width="1"/>
<rect x="362.4" y="120.1" width="54" height="97.9" fill="#EBEBEB"/>
<line x1="362.4" x2="416.4" y1="127.2" y2="127.2" stroke="#FAFAFA" stroke-width="1"/>
<line x1="362.4" x2="416.4" y1="139.54" y2="139.54" stroke="#FAFAFA" stroke-width="1"/>
<line x1="362.4" x2="416.4" y1="151.88" y2="151.88" stroke="#FAFAFA" stroke-width="1"/>
<line x1="362.4" x2="416.4" y1="164.22" y2="164.22" stroke="#FAFAFA" stroke-width="1"/>
<line x1="362.4" x2="416.4" y1="176.56" y2="176.56" stroke="#FAFAFA" stroke-width="1"/>
<line x1="362.4" x2="416.4" y1="188.9" y2="188.9" stroke="#FAFAFA" stroke-width="1"/>
<line x1="362.4" x2="416.4" y1="201.24" y2="201.24" stroke="#FAFAFA" stroke-width="1"/>
<line x1="362.4" x2="416.4" y1="213.58" y2="213.58" stroke="#FAFAFA" stroke-width="1"/>
<rect x="421.4" y="120.1" width="54" height="97.9" fill="#EBEBEB"/>
<line x1="421.4" x2="475.4" y1="127.2" y2="127.2" stroke="#FAFAFA" stroke-width="1"/>
<line x1="421.4" x2="475.4" y1="139.54" y2="139.54" stroke="#FAFAFA" stroke-width="1"/>
<line x1="421.4" x2="475.4" y1="151.88" y2="151.88" stroke="#FAFAFA" stroke-width="1"/>
<line x1="421.4" x2="475.4" y1="164.22" y2="164.22" stroke="#FAFAFA" stroke-width="1"/>
<line x1="421.4" x2="475.4" y1="176.56" y2="176.56" stroke="#FAFAFA" stroke-width="1"/>
<line x1="421.4" x2="475.4" y1="188.9" y2="188.9" stroke="#FAFAFA" stroke-width="1"/>
<line x1="421.4" x2="475.4" y1="201.24" y2="201.24" stroke="#FAFAFA" stroke-width="1"/>
<line x1="421.4" x2="475.4" y1="213.58" y2="213.58" stroke="#FAFAFA" stroke-width="1"/>
<rect x="480.4" y="120.1" width="54" height="97.9" fill="#EBEBEB"/>
<line x1="480.4" x2="534.4" y1="127.2" y2="127.2" stroke="#FAFAFA" stroke-width="1"/>
<line x1="480.4" x2="534.4" y1="139.54" y2="139.54" stroke="#FAFAFA" stroke-width="1"/>
<line x1="480.4" x2="534.4" y1="151.88" y2="151.88" stroke="#FAFAFA" stroke-width="1"/>
<line x1="480.4" x2="534.4" y1="164.22" y2="164.22" stroke="#FAFAFA" stroke-width="1"/>
<line x1="480.4" x2="534.4" y1="176.56" y2="176.56" stroke="#FAFAFA" stroke-width="1"/>
<line x1="480.4" x2="534.4" y1="188.9" y2="188.9" stroke="#FAFAFA" stroke-width="1"/>
<line x1="480.4" x2="534.4" y1="201.24" y2="201.24" stroke="#FAFAFA" stroke-width="1"/>
<line x1="480.4" x2="534.4" y1="213.58" y2="213.58" stroke="#FAFAFA" stroke-width="1"/>
<rect x="362.4" y="222.7" width="54" height="97.9" fill="#EBEBEB"/>
<line x1="362.4" x2="416.4" y1="229.8" y2="229.8" stroke="#FAFAFA" stroke-width="1"/>
<line x1="362.4" x2="416.4" y1="242.14" y2="242.14" stroke="#FAFAFA" stroke-width="1"/>
<line x1="362.4" x2="416.4" y1="254.48" y2="254.48" stroke="#FAFAFA" stroke-width="1"/>
<line x1="362.4" x2="416.4" y1="266.82" y2="266.82" stroke="#FAFAFA" stroke-width="1"/>
<line x1="362.4" x2="416.4" y1="279.16" y2="279.16" stroke="#FAFAFA" stroke-width="1"/>
<line x1="362.4" x2="416.4" y1="291.5" y2="291.5" stroke="#FAFAFA" stroke-width="1"/>
<line x1="362.4" x2="416.4" y1="303.84" y2="303.84" stroke="#FAFAFA" stroke-width="1"/>
<line x1="362.4" x2="416.4" y1="316.18" y2="316.18" stroke="#FAFAFA" stroke-width="1"/>
<rect x="421.4" y="222.7" width="54" height="97.9" fill="#EBEBEB"/>
<line x1="421.4" x2="475.4" y1="229.8" y2="229.8" stroke="#FAFAFA" stroke-width="1"/>
<line x1="421.4" x2="475.4" y1="242.14" y2="242.14" stroke="#FAFAFA" stroke-width="1"/>
<line x1="421.4" x2="475.4" y1="254.48" y2="254.48" stroke="#FAFAFA" stroke-width="1"/>
<line x1="421.4" x2="475.4" y1="266.82" y2="266.82" stroke="#FAFAFA" stroke-width="1"/>
<line x1="421.4" x2="475.4" y1="279.16" y2="279.16" stroke="#FAFAFA" stroke-width="1"/>
<line x1="421.4" x2="475.4" y1="291.5" y2="291.5" stroke="#FAFAFA" stroke-width="1"/>
<line x1="421.4" x2="475.4" y1="303.84" y2="303.84" stroke="#FAFAFA" stroke-width="1"/>
<line x1="421.4" x2="475.4" y1="316.18" y2="316.18" stroke="#FAFAFA" stroke-width="1"/>
<rect x="480.4" y="222.7" width="54" height="97.9" fill="#EBEBEB"/>
<line x1="480.4" x2="534.4" y1="229.8" y2="229.8" stroke="#FAFAFA" stroke-width="1"/>
<line x1="480.4" x2="534.4" y1="242.14" y2="242.14" stroke="#FAFAFA" stroke-width="1"/>
<line x1="480.4" x2="534.4" y1="254.48" y2="254.48" stroke="#FAFAFA" stroke-width="1"/>
<line x1="480.4" x2="534.4" y1="266.82" y2="266.82" stroke="#FAFAFA" stroke-width="1"/>
<line x1="480.4" x2="534.4" y1="279.16" y2="279.16" stroke="#FAFAFA" stroke-width="1"/>
<line x1="480.4" x2="534.4" y1="291.5" y2="291.5" stroke="#FAFAFA" stroke-width="1"/>
<line x1="480.4" x2="534.4" y1="303.84" y2="303.84" stroke="#FAFAFA" stroke-width="1"/>
<line x1="480.4" x2="534.4" y1="316.18" y2="316.18" stroke="#FAFAFA" stroke-width="1"/>
<rect x="362.4" y="325.3" width="54" height="97.9" fill="#EBEBEB"/>
<line x1="362.4" x2="416.4" y1="332.4" y2="332.4" stroke="#FAFAFA" stroke-width="1"/>
<line x1="362.4" x2="416.4" y1="344.74" y2="344.74" stroke="#FAFAFA" stroke-width="1"/>
<line x1="362.4" x2="416.4" y1="357.08" y2="357.08" stroke="#FAFAFA" stroke-width="1"/>
<line x1="362.4" x2="416.4" y1="369.42" y2="369.42" stroke="#FAFAFA" stroke-width="1"/>
<line x1="362.4" x2="416.4" y1="381.76" y2="381.76" stroke="#FAFAFA" stroke-width="1"/>
<line x1="362.4" x2="416.4" y1="394.1" y2="394.1" stroke="#FAFAFA" stroke-width="1"/>
<line x1="362.4" x2="416.4" y1="406.44" y2="406.44" stroke="#FAFAFA" stroke-width="1"/>
<line x1="362.4" x2="416.4" y1="418.78" y2="418.78" stroke="#FAFAFA" stroke-width="1"/>
<rect x="421.4" y="325.3" width="54" height="97.9" fill="#EBEBEB"/>
<line x1="421.4" x2="475.4" y1="332.4" y2="332.4" stroke="#FAFAFA" stroke-width="1"/>
<line x1="421.4" x2="475.4" y1="344.74" y2="344.74" stroke="#FAFAFA" stroke-width="1"/>
<line x1="421.4" x2="475.4" y1="357.08" y2="357.08" stroke="#FAFAFA" stroke-width="1"/>
<line x1="421.4" x2="475.4" y1="369.42" y2="369.42" stroke="#FAFAFA" stroke-width="1"/>
<line x1="421.4" x2="475.4" y1="381.76" y2="381.76" stroke="#FAFAFA" stroke-width="1"/>
<line x1="421.4" x2="475.4" y1="394.1" y2="394.1" stroke="#FAFAFA" stroke-width="1"/>
<line x1="421.4" x2="475.4" y1="406.44" y2="406.44" stroke="#FAFAFA" stroke-width="1"/>
<line x1="421.4" x2="475.4" y1="418.78" y2="418.78" stroke="#FAFAFA" stroke-width="1"/>
<rect x="480.4" y="325.3" width="54" height="97.9" fill="#EBEBEB"/>
<line x1="480.4" x2="534.4" y1="332.4" y2="332.4" stroke="#FAFAFA" stroke-width="1"/>
<line x1="480.4" x2="534.4" y1="344.74" y2="344.74" stroke="#FAFAFA" stroke-width="1"/>
<line x1="480.4" x2="534.4" y1="357.08" y2="357.08" stroke="#FAFAFA" stroke-width="1"/>
<line x1="480.4" x2="534.4" y1="369.42" y2="369.42" stroke="#FAFAFA" stroke-width="1"/>
<line x1="480.4" x2="534.4" y1="381.76" y2="381.76" stroke="#FAFAFA" stroke-width="1"/>
<line x1="480.4" x2="534.4" y1="394.1" y2="394.1" stroke="#FAFAFA" stroke-width="1"/>
<line x1="480.4" x2="534.4" y1="406.44" y2="406.44" stroke="#FAFAFA" stroke-width="1"/>
<line x1="480.4" x2="534.4" y1="418.78" y2="418.78" stroke="#FAFAFA" stroke-width="1"/>
<rect x="362.4" y="427.9" width="54" height="97.9" fill="#EBEBEB"/>
<line x1="362.4" x2="416.4" y1="435" y2="435" stroke="#FAFAFA" stroke-width="1"/>
<line x1="362.4" x2="416.4" y1="447.34" y2="447.34" stroke="#FAFAFA" stroke-width="1"/>
<line x1="362.4" x2="416.4" y1="459.68" y2="459.68" stroke="#FAFAFA" stroke-width="1"/>
<line x1="362.4" x2="416.4" y1="472.02" y2="472.02" stroke="#FAFAFA" stroke-width="1"/>
<line x1="362.4" x2="416.4" y1="484.36" y2="484.36" stroke="#FAFAFA" stroke-width="1"/>
<line x1="362.4" x2="416.4" y1="496.7" y2="496.7" stroke="#FAFAFA" stroke-width="1"/>
<line x1="362.4" x2="416.4" y1="509.04" y2="509.04" stroke="#FAFAFA" stroke-width="1"/>
<line x1="362.4" x2="416.4" y1="521.38" y2="521.38" stroke="#FAFAFA" stroke-width="1"/>
<rect x="421.4" y="427.9" width="54" height="97.9" fill="#EBEBEB"/>
<line x1="421.4" x2="475.4" y1="435" y2="435" stroke="#FAFAFA" stroke-width="1"/>
<line x1="421.4" x2="475.4" y1="447.34" y2="447.34" stroke="#FAFAFA" stroke-width="1"/>
<line x1="421.4" x2="475.4" y1="459.68" y2="459.68" stroke="#FAFAFA" stroke-width="1"/>
<line x1="421.4" x2="475.4" y1="472.02" y2="472.02" stroke="#FAFAFA" stroke-width="1"/>
<line x1="421.4" x2="475.4" y1="484.36" y2="484.36" stroke="#FAFAFA" stroke-width="1"/>
<line x1="421.4" x2="475.4" y1="496.7" y2="496.7" stroke="#FAFAFA" stroke-width="1"/>
<line x1="421.4" x2="475.4" y1="509.04" y2="509.04" stroke="#FAFAFA" stroke-width="1"/>
<line x1="421.4" x2="475.4" y1="521.38" y2="521.38" stroke="#FAFAFA" stroke-width="1"/>
<rect x="480.4" y="427.9" width="54" height="97.9" fill="#EBEBEB"/>
<line x1="480.4" x2="534.4" y1="435" y2="435" stroke="#FAFAFA" stroke-width="1"/>
<line x1="480.4" x2="534.4" y1="447.34" y2="447.34" stroke="#FAFAFA" stroke-width="1"/>
<line x1="480.4" x2="534.4" y1="459.68" y2="459.68" stroke="#FAFAFA" stroke-width="1"/>
<line x1="480.4" x2="534.4" y1="472.02" y2="472.02" stroke="#FAFAFA" stroke-width="1"/>
<line x1="480.4" x2="534.4" y1="484.36" y2="484.36" stroke="#FAFAFA" stroke-width="1"/>
<line x1="480.4" x2="534.4" y1="496.7" y2="496.7" stroke="#FAFAFA" stroke-width="1"/>
<line x1="480.4" x2="534.4" y1="509.04" y2="509.04" stroke="#FAFAFA" stroke-width="1"/>
<line x1="480.4" x2="534.4" y1="521.38" y2="521.38" stroke="#FAFAFA" stroke-width="1"/>
<polyline fill="none" stroke="#440154" stroke-width="1.1" stroke-linejoin="round" points="367.19,84.7 376.66,83.4 386.13,80.6 395.6,78.8 405.07,76.4"/>
<polyline fill="none" stroke="#414487" stroke-width="1.1" stroke-linejoin="round" points="368.51,87.9 377.98,89.3 387.45,90.9 396.92,92 406.39,93.8"/>
<polyline fill="none" stroke="#2A788E" stroke-width="1.1" stroke-linejoin="round" points="369.84,85.6 379.31,86.1 388.78,87.5 398.25,85.8 407.72,85.8"/>
<polyline fill="none" stroke="#22A884" stroke-width="1.1" stroke-linejoin="round" points="371.16,87.9 380.63,88.4 390.1,89.7 399.57,91.1 409.04,93.2"/>
<polyline fill="none" stroke="#7AD151" stroke-width="1.1" stroke-linejoin="round" points="372.49,85.8 381.96,83.8 391.43,78.8 400.9,80.2 410.37,78.6"/>
<polyline fill="none" stroke="#FDE725" stroke-width="1.1" stroke-linejoin="round" points="373.81,85.5 383.28,84.3 392.75,80.2 402.22,82 411.69,81.5"/>
<circle cx="367.19" cy="84.7" r="1.15" fill="#440154"/>
<circle cx="376.66" cy="83.4" r="1.15" fill="#440154"/>
<circle cx="386.13" cy="80.6" r="1.15" fill="#440154"/>
<circle cx="395.6" cy="78.8" r="1.15" fill="#440154"/>
<circle cx="405.07" cy="76.4" r="1.15" fill="#440154"/>
<circle cx="368.51" cy="87.9" r="1.15" fill="#414487"/>
<circle cx="377.98" cy="89.3" r="1.15" fill="#414487"/>
<circle cx="387.45" cy="90.9" r="1.15" fill="#414487"/>
<circle cx="396.92" cy="92" r="1.15" fill="#414487"/>
<circle cx="406.39" cy="93.8" r="1.15" fill="#414487"/>
<circle cx="369.84" cy="85.6" r="1.15" fill="#2A788E"/>
<circle cx="379.31" cy="86.1" r="1.15" fill="#2A788E"/>
<circle cx="388.78" cy="87.5" r="1.15" fill="#2A788E"/>
<circle cx="398.25" cy="85.8" r="1.15" fill="#2A788E"/>
<circle cx="407.72" cy="85.8" r="1.15" fill="#2A788E"/>
<circle cx="371.16" cy="87.9" r="1.15" fill="#22A884"/>
<circle cx="380.63" cy="88.4" r="1.15" fill="#22A884"/>
<circle cx="390.1" cy="89.7" r="1.15" fill="#22A884"/>
<circle cx="399.57" cy="91.1" r="1.15" fill="#22A884"/>
<circle cx="409.04" cy="93.2" r="1.15" fill="#22A884"/>
<circle cx="372.49" cy="85.8" r="1.15" fill="#7AD151"/>
<circle cx="381.96" cy="83.8" r="1.15" fill="#7AD151"/>
<circle cx="391.43" cy="78.8" r="1.15" fill="#7AD151"/>
<circle cx="400.9" cy="80.2" r="1.15" fill="#7AD151"/>
<circle cx="410.37" cy="78.6" r="1.15" fill="#7AD151"/>
<circle cx="373.81" cy="85.5" r="1.15" fill="#FDE725"/>
<circle cx="383.28" cy="84.3" r="1.15" fill="#FDE725"/>
<circle cx="392.75" cy="80.2" r="1.15" fill="#FDE725"/>
<circle cx="402.22" cy="82" r="1.15" fill="#FDE725"/>
<circle cx="411.69" cy="81.5" r="1.15" fill="#FDE725"/>
<polyline fill="none" stroke="#440154" stroke-width="1.1" stroke-linejoin="round" points="426.19,78.8 435.66,72 445.13,63.8 454.6,52.9 464.07,39.8"/>
<polyline fill="none" stroke="#414487" stroke-width="1.1" stroke-linejoin="round" points="427.51,87 436.98,87.9 446.45,88.8 455.92,89.7 465.39,91.5"/>
<polyline fill="none" stroke="#2A788E" stroke-width="1.1" stroke-linejoin="round" points="428.84,85.8 438.31,85.2 447.78,84.3 457.25,83.6 466.72,83.4"/>
<polyline fill="none" stroke="#22A884" stroke-width="1.1" stroke-linejoin="round" points="430.16,87 439.63,88.2 449.1,88.8 458.57,89.7 468.04,90.9"/>
<polyline fill="none" stroke="#7AD151" stroke-width="1.1" stroke-linejoin="round" points="431.49,83.8 440.96,81.1 450.43,73.1 459.9,78.8 469.37,81.3"/>
<polyline fill="none" stroke="#FDE725" stroke-width="1.1" stroke-linejoin="round" points="432.81,80 442.28,80.6 451.75,79.7 461.22,75.2 470.69,74.3"/>
<circle cx="426.19" cy="78.8" r="1.15" fill="#440154"/>
<circle cx="435.66" cy="72" r="1.15" fill="#440154"/>
<circle cx="445.13" cy="63.8" r="1.15" fill="#440154"/>
<circle cx="454.6" cy="52.9" r="1.15" fill="#440154"/>
<circle cx="464.07" cy="39.8" r="1.15" fill="#440154"/>
<circle cx="427.51" cy="87" r="1.15" fill="#414487"/>
<circle cx="436.98" cy="87.9" r="1.15" fill="#414487"/>
<circle cx="446.45" cy="88.8" r="1.15" fill="#414487"/>
<circle cx="455.92" cy="89.7" r="1.15" fill="#414487"/>
<circle cx="465.39" cy="91.5" r="1.15" fill="#414487"/>
<circle cx="428.84" cy="85.8" r="1.15" fill="#2A788E"/>
<circle cx="438.31" cy="85.2" r="1.15" fill="#2A788E"/>
<circle cx="447.78" cy="84.3" r="1.15" fill="#2A788E"/>
<circle cx="457.25" cy="83.6" r="1.15" fill="#2A788E"/>
<circle cx="466.72" cy="83.4" r="1.15" fill="#2A788E"/>
<circle cx="430.16" cy="87" r="1.15" fill="#22A884"/>
<circle cx="439.63" cy="88.2" r="1.15" fill="#22A884"/>
<circle cx="449.1" cy="88.8" r="1.15" fill="#22A884"/>
<circle cx="458.57" cy="89.7" r="1.15" fill="#22A884"/>
<circle cx="468.04" cy="90.9" r="1.15" fill="#22A884"/>
<circle cx="431.49" cy="83.8" r="1.15" fill="#7AD151"/>
<circle cx="440.96" cy="81.1" r="1.15" fill="#7AD151"/>
<circle cx="450.43" cy="73.1" r="1.15" fill="#7AD151"/>
<circle cx="459.9" cy="78.8" r="1.15" fill="#7AD151"/>
<circle cx="469.37" cy="81.3" r="1.15" fill="#7AD151"/>
<circle cx="432.81" cy="80" r="1.15" fill="#FDE725"/>
<circle cx="442.28" cy="80.6" r="1.15" fill="#FDE725"/>
<circle cx="451.75" cy="79.7" r="1.15" fill="#FDE725"/>
<circle cx="461.22" cy="75.2" r="1.15" fill="#FDE725"/>
<circle cx="470.69" cy="74.3" r="1.15" fill="#FDE725"/>
<polyline fill="none" stroke="#440154" stroke-width="1.1" stroke-linejoin="round" points="485.19,94.84 494.66,101.37 504.13,104.12 513.6,106.39 523.07,107.83"/>
<polyline fill="none" stroke="#414487" stroke-width="1.1" stroke-linejoin="round" points="486.51,95.12 495.98,101.16 505.45,103.98 514.92,106.17 524.39,107.69"/>
<polyline fill="none" stroke="#2A788E" stroke-width="1.1" stroke-linejoin="round" points="487.84,95.34 497.31,100.46 506.78,103.7 516.25,105.76 525.72,107.34"/>
<polyline fill="none" stroke="#22A884" stroke-width="1.1" stroke-linejoin="round" points="489.16,95.27 498.63,100.67 508.1,103.77 517.57,105.97 527.04,107.41"/>
<polyline fill="none" stroke="#7AD151" stroke-width="1.1" stroke-linejoin="round" points="490.49,94.64 499.96,99.48 509.43,102.23 518.9,104.36 528.37,105.59"/>
<polyline fill="none" stroke="#FDE725" stroke-width="1.1" stroke-linejoin="round" points="491.81,94.5 501.28,99.06 510.75,101.6 520.22,103.87 529.69,105.94"/>
<circle cx="485.19" cy="94.84" r="1.15" fill="#440154"/>
<circle cx="494.66" cy="101.37" r="1.15" fill="#440154"/>
<circle cx="504.13" cy="104.12" r="1.15" fill="#440154"/>
<circle cx="513.6" cy="106.39" r="1.15" fill="#440154"/>
<circle cx="523.07" cy="107.83" r="1.15" fill="#440154"/>
<circle cx="486.51" cy="95.12" r="1.15" fill="#414487"/>
<circle cx="495.98" cy="101.16" r="1.15" fill="#414487"/>
<circle cx="505.45" cy="103.98" r="1.15" fill="#414487"/>
<circle cx="514.92" cy="106.17" r="1.15" fill="#414487"/>
<circle cx="524.39" cy="107.69" r="1.15" fill="#414487"/>
<circle cx="487.84" cy="95.34" r="1.15" fill="#2A788E"/>
<circle cx="497.31" cy="100.46" r="1.15" fill="#2A788E"/>
<circle cx="506.78" cy="103.7" r="1.15" fill="#2A788E"/>
<circle cx="516.25" cy="105.76" r="1.15" fill="#2A788E"/>
<circle cx="525.72" cy="107.34" r="1.15" fill="#2A788E"/>
<circle cx="489.16" cy="95.27" r="1.15" fill="#22A884"/>
<circle cx="498.63" cy="100.67" r="1.15" fill="#22A884"/>
<circle cx="508.1" cy="103.77" r="1.15" fill="#22A884"/>
<circle cx="517.57" cy="105.97" r="1.15" fill="#22A884"/>
<circle cx="527.04" cy="107.41" r="1.15" fill="#22A884"/>
<circle cx="490.49" cy="94.64" r="1.15" fill="#7AD151"/>
<circle cx="499.96" cy="99.48" r="1.15" fill="#7AD151"/>
<circle cx="509.43" cy="102.23" r="1.15" fill="#7AD151"/>
<circle cx="518.9" cy="104.36" r="1.15" fill="#7AD151"/>
<circle cx="528.37" cy="105.59" r="1.15" fill="#7AD151"/>
<circle cx="491.81" cy="94.5" r="1.15" fill="#FDE725"/>
<circle cx="501.28" cy="99.06" r="1.15" fill="#FDE725"/>
<circle cx="510.75" cy="101.6" r="1.15" fill="#FDE725"/>
<circle cx="520.22" cy="103.87" r="1.15" fill="#FDE725"/>
<circle cx="529.69" cy="105.94" r="1.15" fill="#FDE725"/>
<polyline fill="none" stroke="#440154" stroke-width="1.1" stroke-linejoin="round" points="367.19,187.3 376.66,185.2 386.13,183.1 395.6,181.3 405.07,179.5"/>
<polyline fill="none" stroke="#414487" stroke-width="1.1" stroke-linejoin="round" points="368.51,190.4 377.98,191.8 387.45,192.5 396.92,193.6 406.39,196.1"/>
<polyline fill="none" stroke="#2A788E" stroke-width="1.1" stroke-linejoin="round" points="369.84,188.4 379.31,188.5 388.78,187.5 398.25,188.4 407.72,187.5"/>
<polyline fill="none" stroke="#22A884" stroke-width="1.1" stroke-linejoin="round" points="371.16,190.2 380.63,191.3 390.1,192.5 399.57,193.6 409.04,195.8"/>
<polyline fill="none" stroke="#7AD151" stroke-width="1.1" stroke-linejoin="round" points="372.49,187.9 381.96,186.4 391.43,184.9 400.9,183.1 410.37,183.6"/>
<polyline fill="none" stroke="#FDE725" stroke-width="1.1" stroke-linejoin="round" points="373.81,187.5 383.28,185.8 392.75,184.7 402.22,182.2 411.69,180.9"/>
<circle cx="367.19" cy="187.3" r="1.15" fill="#440154"/>
<circle cx="376.66" cy="185.2" r="1.15" fill="#440154"/>
<circle cx="386.13" cy="183.1" r="1.15" fill="#440154"/>
<circle cx="395.6" cy="181.3" r="1.15" fill="#440154"/>
<circle cx="405.07" cy="179.5" r="1.15" fill="#440154"/>
<circle cx="368.51" cy="190.4" r="1.15" fill="#414487"/>
<circle cx="377.98" cy="191.8" r="1.15" fill="#414487"/>
<circle cx="387.45" cy="192.5" r="1.15" fill="#414487"/>
<circle cx="396.92" cy="193.6" r="1.15" fill="#414487"/>
<circle cx="406.39" cy="196.1" r="1.15" fill="#414487"/>
<circle cx="369.84" cy="188.4" r="1.15" fill="#2A788E"/>
<circle cx="379.31" cy="188.5" r="1.15" fill="#2A788E"/>
<circle cx="388.78" cy="187.5" r="1.15" fill="#2A788E"/>
<circle cx="398.25" cy="188.4" r="1.15" fill="#2A788E"/>
<circle cx="407.72" cy="187.5" r="1.15" fill="#2A788E"/>
<circle cx="371.16" cy="190.2" r="1.15" fill="#22A884"/>
<circle cx="380.63" cy="191.3" r="1.15" fill="#22A884"/>
<circle cx="390.1" cy="192.5" r="1.15" fill="#22A884"/>
<circle cx="399.57" cy="193.6" r="1.15" fill="#22A884"/>
<circle cx="409.04" cy="195.8" r="1.15" fill="#22A884"/>
<circle cx="372.49" cy="187.9" r="1.15" fill="#7AD151"/>
<circle cx="381.96" cy="186.4" r="1.15" fill="#7AD151"/>
<circle cx="391.43" cy="184.9" r="1.15" fill="#7AD151"/>
<circle cx="400.9" cy="183.1" r="1.15" fill="#7AD151"/>
<circle cx="410.37" cy="183.6" r="1.15" fill="#7AD151"/>
<circle cx="373.81" cy="187.5" r="1.15" fill="#FDE725"/>
<circle cx="383.28" cy="185.8" r="1.15" fill="#FDE725"/>
<circle cx="392.75" cy="184.7" r="1.15" fill="#FDE725"/>
<circle cx="402.22" cy="182.2" r="1.15" fill="#FDE725"/>
<circle cx="411.69" cy="180.9" r="1.15" fill="#FDE725"/>
<polyline fill="none" stroke="#440154" stroke-width="1.1" stroke-linejoin="round" points="426.19,181.3 435.66,174.7 445.13,166.8 454.6,156.4 464.07,142.9"/>
<polyline fill="none" stroke="#414487" stroke-width="1.1" stroke-linejoin="round" points="427.51,189.5 436.98,190.6 446.45,191.5 455.92,192.5 465.39,194"/>
<polyline fill="none" stroke="#2A788E" stroke-width="1.1" stroke-linejoin="round" points="428.84,189.3 438.31,187.5 447.78,187 457.25,186.7 466.72,186.7"/>
<polyline fill="none" stroke="#22A884" stroke-width="1.1" stroke-linejoin="round" points="430.16,189.7 439.63,190.6 449.1,191.3 458.57,192 468.04,193.4"/>
<polyline fill="none" stroke="#7AD151" stroke-width="1.1" stroke-linejoin="round" points="431.49,185.8 440.96,179.5 450.43,179.5 459.9,182.7 469.37,184.5"/>
<polyline fill="none" stroke="#FDE725" stroke-width="1.1" stroke-linejoin="round" points="432.81,182.9 442.28,181.8 451.75,181.5 461.22,179.1 470.69,177.6"/>
<circle cx="426.19" cy="181.3" r="1.15" fill="#440154"/>
<circle cx="435.66" cy="174.7" r="1.15" fill="#440154"/>
<circle cx="445.13" cy="166.8" r="1.15" fill="#440154"/>
<circle cx="454.6" cy="156.4" r="1.15" fill="#440154"/>
<circle cx="464.07" cy="142.9" r="1.15" fill="#440154"/>
<circle cx="427.51" cy="189.5" r="1.15" fill="#414487"/>
<circle cx="436.98" cy="190.6" r="1.15" fill="#414487"/>
<circle cx="446.45" cy="191.5" r="1.15" fill="#414487"/>
<circle cx="455.92" cy="192.5" r="1.15" fill="#414487"/>
<circle cx="465.39" cy="194" r="1.15" fill="#414487"/>
<circle cx="428.84" cy="189.3" r="1.15" fill="#2A788E"/>
<circle cx="438.31" cy="187.5" r="1.15" fill="#2A788E"/>
<circle cx="447.78" cy="187" r="1.15" fill="#2A788E"/>
<circle cx="457.25" cy="186.7" r="1.15" fill="#2A788E"/>
<circle cx="466.72" cy="186.7" r="1.15" fill="#2A788E"/>
<circle cx="430.16" cy="189.7" r="1.15" fill="#22A884"/>
<circle cx="439.63" cy="190.6" r="1.15" fill="#22A884"/>
<circle cx="449.1" cy="191.3" r="1.15" fill="#22A884"/>
<circle cx="458.57" cy="192" r="1.15" fill="#22A884"/>
<circle cx="468.04" cy="193.4" r="1.15" fill="#22A884"/>
<circle cx="431.49" cy="185.8" r="1.15" fill="#7AD151"/>
<circle cx="440.96" cy="179.5" r="1.15" fill="#7AD151"/>
<circle cx="450.43" cy="179.5" r="1.15" fill="#7AD151"/>
<circle cx="459.9" cy="182.7" r="1.15" fill="#7AD151"/>
<circle cx="469.37" cy="184.5" r="1.15" fill="#7AD151"/>
<circle cx="432.81" cy="182.9" r="1.15" fill="#FDE725"/>
<circle cx="442.28" cy="181.8" r="1.15" fill="#FDE725"/>
<circle cx="451.75" cy="181.5" r="1.15" fill="#FDE725"/>
<circle cx="461.22" cy="179.1" r="1.15" fill="#FDE725"/>
<circle cx="470.69" cy="177.6" r="1.15" fill="#FDE725"/>
<polyline fill="none" stroke="#440154" stroke-width="1.1" stroke-linejoin="round" points="485.19,197.17 494.66,203.48 504.13,206.59 513.6,208.87 523.07,210.77"/>
<polyline fill="none" stroke="#414487" stroke-width="1.1" stroke-linejoin="round" points="486.51,197.38 495.98,203.27 505.45,206.38 514.92,208.66 524.39,210.63"/>
<polyline fill="none" stroke="#2A788E" stroke-width="1.1" stroke-linejoin="round" points="487.84,197.8 497.31,202.85 506.78,205.61 516.25,207.88 525.72,210.14"/>
<polyline fill="none" stroke="#22A884" stroke-width="1.1" stroke-linejoin="round" points="489.16,197.66 498.63,202.57 508.1,205.47 517.57,208.03 527.04,210"/>
<polyline fill="none" stroke="#7AD151" stroke-width="1.1" stroke-linejoin="round" points="490.49,196.82 499.96,201.59 509.43,204.35 518.9,206 528.37,208.53"/>
<polyline fill="none" stroke="#FDE725" stroke-width="1.1" stroke-linejoin="round" points="491.81,197.17 501.28,201.24 510.75,204.07 520.22,206.28 529.69,208.53"/>
<circle cx="485.19" cy="197.17" r="1.15" fill="#440154"/>
<circle cx="494.66" cy="203.48" r="1.15" fill="#440154"/>
<circle cx="504.13" cy="206.59" r="1.15" fill="#440154"/>
<circle cx="513.6" cy="208.87" r="1.15" fill="#440154"/>
<circle cx="523.07" cy="210.77" r="1.15" fill="#440154"/>
<circle cx="486.51" cy="197.38" r="1.15" fill="#414487"/>
<circle cx="495.98" cy="203.27" r="1.15" fill="#414487"/>
<circle cx="505.45" cy="206.38" r="1.15" fill="#414487"/>
<circle cx="514.92" cy="208.66" r="1.15" fill="#414487"/>
<circle cx="524.39" cy="210.63" r="1.15" fill="#414487"/>
<circle cx="487.84" cy="197.8" r="1.15" fill="#2A788E"/>
<circle cx="497.31" cy="202.85" r="1.15" fill="#2A788E"/>
<circle cx="506.78" cy="205.61" r="1.15" fill="#2A788E"/>
<circle cx="516.25" cy="207.88" r="1.15" fill="#2A788E"/>
<circle cx="525.72" cy="210.14" r="1.15" fill="#2A788E"/>
<circle cx="489.16" cy="197.66" r="1.15" fill="#22A884"/>
<circle cx="498.63" cy="202.57" r="1.15" fill="#22A884"/>
<circle cx="508.1" cy="205.47" r="1.15" fill="#22A884"/>
<circle cx="517.57" cy="208.03" r="1.15" fill="#22A884"/>
<circle cx="527.04" cy="210" r="1.15" fill="#22A884"/>
<circle cx="490.49" cy="196.82" r="1.15" fill="#7AD151"/>
<circle cx="499.96" cy="201.59" r="1.15" fill="#7AD151"/>
<circle cx="509.43" cy="204.35" r="1.15" fill="#7AD151"/>
<circle cx="518.9" cy="206" r="1.15" fill="#7AD151"/>
<circle cx="528.37" cy="208.53" r="1.15" fill="#7AD151"/>
<circle cx="491.81" cy="197.17" r="1.15" fill="#FDE725"/>
<circle cx="501.28" cy="201.24" r="1.15" fill="#FDE725"/>
<circle cx="510.75" cy="204.07" r="1.15" fill="#FDE725"/>
<circle cx="520.22" cy="206.28" r="1.15" fill="#FDE725"/>
<circle cx="529.69" cy="208.53" r="1.15" fill="#FDE725"/>
<polyline fill="none" stroke="#440154" stroke-width="1.1" stroke-linejoin="round" points="367.19,289.5 376.66,288.8 386.13,285.9 395.6,283.6 405.07,284.8"/>
<polyline fill="none" stroke="#414487" stroke-width="1.1" stroke-linejoin="round" points="368.51,292.5 377.98,295 387.45,294.3 396.92,296.8 406.39,300"/>
<polyline fill="none" stroke="#2A788E" stroke-width="1.1" stroke-linejoin="round" points="369.84,291.4 379.31,293 388.78,290.3 398.25,292.1 407.72,293.9"/>
<polyline fill="none" stroke="#22A884" stroke-width="1.1" stroke-linejoin="round" points="371.16,291.8 380.63,294.8 390.1,294.3 399.57,296.4 409.04,299.7"/>
<polyline fill="none" stroke="#7AD151" stroke-width="1.1" stroke-linejoin="round" points="372.49,289.5 381.96,289.4 391.43,286.8 400.9,286.4 410.37,288.8"/>
<polyline fill="none" stroke="#FDE725" stroke-width="1.1" stroke-linejoin="round" points="373.81,289.4 383.28,289.5 392.75,286.4 402.22,286.4 411.69,287"/>
<circle cx="367.19" cy="289.5" r="1.15" fill="#440154"/>
<circle cx="376.66" cy="288.8" r="1.15" fill="#440154"/>
<circle cx="386.13" cy="285.9" r="1.15" fill="#440154"/>
<circle cx="395.6" cy="283.6" r="1.15" fill="#440154"/>
<circle cx="405.07" cy="284.8" r="1.15" fill="#440154"/>
<circle cx="368.51" cy="292.5" r="1.15" fill="#414487"/>
<circle cx="377.98" cy="295" r="1.15" fill="#414487"/>
<circle cx="387.45" cy="294.3" r="1.15" fill="#414487"/>
<circle cx="396.92" cy="296.8" r="1.15" fill="#414487"/>
<circle cx="406.39" cy="300" r="1.15" fill="#414487"/>
<circle cx="369.84" cy="291.4" r="1.15" fill="#2A788E"/>
<circle cx="379.31" cy="293" r="1.15" fill="#2A788E"/>
<circle cx="388.78" cy="290.3" r="1.15" fill="#2A788E"/>
<circle cx="398.25" cy="292.1" r="1.15" fill="#2A788E"/>
<circle cx="407.72" cy="293.9" r="1.15" fill="#2A788E"/>
<circle cx="371.16" cy="291.8" r="1.15" fill="#22A884"/>
<circle cx="380.63" cy="294.8" r="1.15" fill="#22A884"/>
<circle cx="390.1" cy="294.3" r="1.15" fill="#22A884"/>
<circle cx="399.57" cy="296.4" r="1.15" fill="#22A884"/>
<circle cx="409.04" cy="299.7" r="1.15" fill="#22A884"/>
<circle cx="372.49" cy="289.5" r="1.15" fill="#7AD151"/>
<circle cx="381.96" cy="289.4" r="1.15" fill="#7AD151"/>
<circle cx="391.43" cy="286.8" r="1.15" fill="#7AD151"/>
<circle cx="400.9" cy="286.4" r="1.15" fill="#7AD151"/>
<circle cx="410.37" cy="288.8" r="1.15" fill="#7AD151"/>
<circle cx="373.81" cy="289.4" r="1.15" fill="#FDE725"/>
<circle cx="383.28" cy="289.5" r="1.15" fill="#FDE725"/>
<circle cx="392.75" cy="286.4" r="1.15" fill="#FDE725"/>
<circle cx="402.22" cy="286.4" r="1.15" fill="#FDE725"/>
<circle cx="411.69" cy="287" r="1.15" fill="#FDE725"/>
<polyline fill="none" stroke="#440154" stroke-width="1.1" stroke-linejoin="round" points="426.19,283.9 435.66,277.7 445.13,269.4 454.6,257.5 464.07,245.7"/>
<polyline fill="none" stroke="#414487" stroke-width="1.1" stroke-linejoin="round" points="427.51,291.8 436.98,292.7 446.45,293.4 455.92,294.3 465.39,296.8"/>
<polyline fill="none" stroke="#2A788E" stroke-width="1.1" stroke-linejoin="round" points="428.84,290.9 438.31,290.9 447.78,290.3 457.25,289.4 466.72,290.3"/>
<polyline fill="none" stroke="#22A884" stroke-width="1.1" stroke-linejoin="round" points="430.16,291.5 439.63,292.3 449.1,293.2 458.57,294.3 468.04,296.4"/>
<polyline fill="none" stroke="#7AD151" stroke-width="1.1" stroke-linejoin="round" points="431.49,288.8 440.96,280 450.43,274.8 459.9,257.3 469.37,263.6"/>
<polyline fill="none" stroke="#FDE725" stroke-width="1.1" stroke-linejoin="round" points="432.81,285.5 442.28,285.9 451.75,284.1 461.22,278.6 470.69,281.8"/>
<circle cx="426.19" cy="283.9" r="1.15" fill="#440154"/>
<circle cx="435.66" cy="277.7" r="1.15" fill="#440154"/>
<circle cx="445.13" cy="269.4" r="1.15" fill="#440154"/>
<circle cx="454.6" cy="257.5" r="1.15" fill="#440154"/>
<circle cx="464.07" cy="245.7" r="1.15" fill="#440154"/>
<circle cx="427.51" cy="291.8" r="1.15" fill="#414487"/>
<circle cx="436.98" cy="292.7" r="1.15" fill="#414487"/>
<circle cx="446.45" cy="293.4" r="1.15" fill="#414487"/>
<circle cx="455.92" cy="294.3" r="1.15" fill="#414487"/>
<circle cx="465.39" cy="296.8" r="1.15" fill="#414487"/>
<circle cx="428.84" cy="290.9" r="1.15" fill="#2A788E"/>
<circle cx="438.31" cy="290.9" r="1.15" fill="#2A788E"/>
<circle cx="447.78" cy="290.3" r="1.15" fill="#2A788E"/>
<circle cx="457.25" cy="289.4" r="1.15" fill="#2A788E"/>
<circle cx="466.72" cy="290.3" r="1.15" fill="#2A788E"/>
<circle cx="430.16" cy="291.5" r="1.15" fill="#22A884"/>
<circle cx="439.63" cy="292.3" r="1.15" fill="#22A884"/>
<circle cx="449.1" cy="293.2" r="1.15" fill="#22A884"/>
<circle cx="458.57" cy="294.3" r="1.15" fill="#22A884"/>
<circle cx="468.04" cy="296.4" r="1.15" fill="#22A884"/>
<circle cx="431.49" cy="288.8" r="1.15" fill="#7AD151"/>
<circle cx="440.96" cy="280" r="1.15" fill="#7AD151"/>
<circle cx="450.43" cy="274.8" r="1.15" fill="#7AD151"/>
<circle cx="459.9" cy="257.3" r="1.15" fill="#7AD151"/>
<circle cx="469.37" cy="263.6" r="1.15" fill="#7AD151"/>
<circle cx="432.81" cy="285.5" r="1.15" fill="#FDE725"/>
<circle cx="442.28" cy="285.9" r="1.15" fill="#FDE725"/>
<circle cx="451.75" cy="284.1" r="1.15" fill="#FDE725"/>
<circle cx="461.22" cy="278.6" r="1.15" fill="#FDE725"/>
<circle cx="470.69" cy="281.8" r="1.15" fill="#FDE725"/>
<polyline fill="none" stroke="#440154" stroke-width="1.1" stroke-linejoin="round" points="485.19,300.25 494.66,306.03 504.13,308.98 513.6,311.32 523.07,312.84"/>
<polyline fill="none" stroke="#414487" stroke-width="1.1" stroke-linejoin="round" points="486.51,300.45 495.98,305.75 505.45,308.77 514.92,311.12 524.39,312.7"/>
<polyline fill="none" stroke="#2A788E" stroke-width="1.1" stroke-linejoin="round" points="487.84,300.88 497.31,305.47 506.78,308.35 516.25,310.56 525.72,312.49"/>
<polyline fill="none" stroke="#22A884" stroke-width="1.1" stroke-linejoin="round" points="489.16,300.67 498.63,305.33 508.1,308.21 517.57,310.41 527.04,312.28"/>
<polyline fill="none" stroke="#7AD151" stroke-width="1.1" stroke-linejoin="round" points="490.49,300.11 499.96,304.42 509.43,305.83 518.9,309.09 528.37,310.46"/>
<polyline fill="none" stroke="#FDE725" stroke-width="1.1" stroke-linejoin="round" points="491.81,299.75 501.28,304 510.75,306.46 520.22,308.81 529.69,311.23"/>
<circle cx="485.19" cy="300.25" r="1.15" fill="#440154"/>
<circle cx="494.66" cy="306.03" r="1.15" fill="#440154"/>
<circle cx="504.13" cy="308.98" r="1.15" fill="#440154"/>
<circle cx="513.6" cy="311.32" r="1.15" fill="#440154"/>
<circle cx="523.07" cy="312.84" r="1.15" fill="#440154"/>
<circle cx="486.51" cy="300.45" r="1.15" fill="#414487"/>
<circle cx="495.98" cy="305.75" r="1.15" fill="#414487"/>
<circle cx="505.45" cy="308.77" r="1.15" fill="#414487"/>
<circle cx="514.92" cy="311.12" r="1.15" fill="#414487"/>
<circle cx="524.39" cy="312.7" r="1.15" fill="#414487"/>
<circle cx="487.84" cy="300.88" r="1.15" fill="#2A788E"/>
<circle cx="497.31" cy="305.47" r="1.15" fill="#2A788E"/>
<circle cx="506.78" cy="308.35" r="1.15" fill="#2A788E"/>
<circle cx="516.25" cy="310.56" r="1.15" fill="#2A788E"/>
<circle cx="525.72" cy="312.49" r="1.15" fill="#2A788E"/>
<circle cx="489.16" cy="300.67" r="1.15" fill="#22A884"/>
<circle cx="498.63" cy="305.33" r="1.15" fill="#22A884"/>
<circle cx="508.1" cy="308.21" r="1.15" fill="#22A884"/>
<circle cx="517.57" cy="310.41" r="1.15" fill="#22A884"/>
<circle cx="527.04" cy="312.28" r="1.15" fill="#22A884"/>
<circle cx="490.49" cy="300.11" r="1.15" fill="#7AD151"/>
<circle cx="499.96" cy="304.42" r="1.15" fill="#7AD151"/>
<circle cx="509.43" cy="305.83" r="1.15" fill="#7AD151"/>
<circle cx="518.9" cy="309.09" r="1.15" fill="#7AD151"/>
<circle cx="528.37" cy="310.46" r="1.15" fill="#7AD151"/>
<circle cx="491.81" cy="299.75" r="1.15" fill="#FDE725"/>
<circle cx="501.28" cy="304" r="1.15" fill="#FDE725"/>
<circle cx="510.75" cy="306.46" r="1.15" fill="#FDE725"/>
<circle cx="520.22" cy="308.81" r="1.15" fill="#FDE725"/>
<circle cx="529.69" cy="311.23" r="1.15" fill="#FDE725"/>
<polyline fill="none" stroke="#440154" stroke-width="1.1" stroke-linejoin="round" points="367.19,393.6 376.66,389.1 386.13,391.4 395.6,388.8 405.07,385.7"/>
<polyline fill="none" stroke="#414487" stroke-width="1.1" stroke-linejoin="round" points="368.51,395.9 377.98,396.4 387.45,399.1 396.92,401.2 406.39,401.5"/>
<polyline fill="none" stroke="#2A788E" stroke-width="1.1" stroke-linejoin="round" points="369.84,394.5 379.31,392.7 388.78,393.4 398.25,397 407.72,393.2"/>
<polyline fill="none" stroke="#22A884" stroke-width="1.1" stroke-linejoin="round" points="371.16,395 380.63,396.1 390.1,398.8 399.57,401.5 409.04,402.1"/>
<polyline fill="none" stroke="#7AD151" stroke-width="1.1" stroke-linejoin="round" points="372.49,393.4 381.96,390.3 391.43,390.5 400.9,389.1 410.37,390.9"/>
<polyline fill="none" stroke="#FDE725" stroke-width="1.1" stroke-linejoin="round" points="373.81,392.7 383.28,388.8 392.75,390.9 402.22,391.8 411.69,389.5"/>
<circle cx="367.19" cy="393.6" r="1.15" fill="#440154"/>
<circle cx="376.66" cy="389.1" r="1.15" fill="#440154"/>
<circle cx="386.13" cy="391.4" r="1.15" fill="#440154"/>
<circle cx="395.6" cy="388.8" r="1.15" fill="#440154"/>
<circle cx="405.07" cy="385.7" r="1.15" fill="#440154"/>
<circle cx="368.51" cy="395.9" r="1.15" fill="#414487"/>
<circle cx="377.98" cy="396.4" r="1.15" fill="#414487"/>
<circle cx="387.45" cy="399.1" r="1.15" fill="#414487"/>
<circle cx="396.92" cy="401.2" r="1.15" fill="#414487"/>
<circle cx="406.39" cy="401.5" r="1.15" fill="#414487"/>
<circle cx="369.84" cy="394.5" r="1.15" fill="#2A788E"/>
<circle cx="379.31" cy="392.7" r="1.15" fill="#2A788E"/>
<circle cx="388.78" cy="393.4" r="1.15" fill="#2A788E"/>
<circle cx="398.25" cy="397" r="1.15" fill="#2A788E"/>
<circle cx="407.72" cy="393.2" r="1.15" fill="#2A788E"/>
<circle cx="371.16" cy="395" r="1.15" fill="#22A884"/>
<circle cx="380.63" cy="396.1" r="1.15" fill="#22A884"/>
<circle cx="390.1" cy="398.8" r="1.15" fill="#22A884"/>
<circle cx="399.57" cy="401.5" r="1.15" fill="#22A884"/>
<circle cx="409.04" cy="402.1" r="1.15" fill="#22A884"/>
<circle cx="372.49" cy="393.4" r="1.15" fill="#7AD151"/>
<circle cx="381.96" cy="390.3" r="1.15" fill="#7AD151"/>
<circle cx="391.43" cy="390.5" r="1.15" fill="#7AD151"/>
<circle cx="400.9" cy="389.1" r="1.15" fill="#7AD151"/>
<circle cx="410.37" cy="390.9" r="1.15" fill="#7AD151"/>
<circle cx="373.81" cy="392.7" r="1.15" fill="#FDE725"/>
<circle cx="383.28" cy="388.8" r="1.15" fill="#FDE725"/>
<circle cx="392.75" cy="390.9" r="1.15" fill="#FDE725"/>
<circle cx="402.22" cy="391.8" r="1.15" fill="#FDE725"/>
<circle cx="411.69" cy="389.5" r="1.15" fill="#FDE725"/>
<polyline fill="none" stroke="#440154" stroke-width="1.1" stroke-linejoin="round" points="426.19,386.8 435.66,379.1 445.13,370 454.6,358.4 464.07,340.7"/>
<polyline fill="none" stroke="#414487" stroke-width="1.1" stroke-linejoin="round" points="427.51,395.2 436.98,395.7 446.45,396.1 455.92,396.6 465.39,396.8"/>
<polyline fill="none" stroke="#2A788E" stroke-width="1.1" stroke-linejoin="round" points="428.84,393 438.31,391.8 447.78,391.8 457.25,390.9 466.72,393.2"/>
<polyline fill="none" stroke="#22A884" stroke-width="1.1" stroke-linejoin="round" points="430.16,394.5 439.63,395.5 449.1,396.4 458.57,396.8 468.04,397.7"/>
<polyline fill="none" stroke="#7AD151" stroke-width="1.1" stroke-linejoin="round" points="431.49,390.9 440.96,385.7 450.43,381.5 459.9,375.5 469.37,358.4"/>
<polyline fill="none" stroke="#FDE725" stroke-width="1.1" stroke-linejoin="round" points="432.81,389.1 442.28,388.2 451.75,384.8 461.22,385 470.69,383.4"/>
<circle cx="426.19" cy="386.8" r="1.15" fill="#440154"/>
<circle cx="435.66" cy="379.1" r="1.15" fill="#440154"/>
<circle cx="445.13" cy="370" r="1.15" fill="#440154"/>
<circle cx="454.6" cy="358.4" r="1.15" fill="#440154"/>
<circle cx="464.07" cy="340.7" r="1.15" fill="#440154"/>
<circle cx="427.51" cy="395.2" r="1.15" fill="#414487"/>
<circle cx="436.98" cy="395.7" r="1.15" fill="#414487"/>
<circle cx="446.45" cy="396.1" r="1.15" fill="#414487"/>
<circle cx="455.92" cy="396.6" r="1.15" fill="#414487"/>
<circle cx="465.39" cy="396.8" r="1.15" fill="#414487"/>
<circle cx="428.84" cy="393" r="1.15" fill="#2A788E"/>
<circle cx="438.31" cy="391.8" r="1.15" fill="#2A788E"/>
<circle cx="447.78" cy="391.8" r="1.15" fill="#2A788E"/>
<circle cx="457.25" cy="390.9" r="1.15" fill="#2A788E"/>
<circle cx="466.72" cy="393.2" r="1.15" fill="#2A788E"/>
<circle cx="430.16" cy="394.5" r="1.15" fill="#22A884"/>
<circle cx="439.63" cy="395.5" r="1.15" fill="#22A884"/>
<circle cx="449.1" cy="396.4" r="1.15" fill="#22A884"/>
<circle cx="458.57" cy="396.8" r="1.15" fill="#22A884"/>
<circle cx="468.04" cy="397.7" r="1.15" fill="#22A884"/>
<circle cx="431.49" cy="390.9" r="1.15" fill="#7AD151"/>
<circle cx="440.96" cy="385.7" r="1.15" fill="#7AD151"/>
<circle cx="450.43" cy="381.5" r="1.15" fill="#7AD151"/>
<circle cx="459.9" cy="375.5" r="1.15" fill="#7AD151"/>
<circle cx="469.37" cy="358.4" r="1.15" fill="#7AD151"/>
<circle cx="432.81" cy="389.1" r="1.15" fill="#FDE725"/>
<circle cx="442.28" cy="388.2" r="1.15" fill="#FDE725"/>
<circle cx="451.75" cy="384.8" r="1.15" fill="#FDE725"/>
<circle cx="461.22" cy="385" r="1.15" fill="#FDE725"/>
<circle cx="470.69" cy="383.4" r="1.15" fill="#FDE725"/>
<polyline fill="none" stroke="#440154" stroke-width="1.1" stroke-linejoin="round" points="485.19,403.63 494.66,409.44 504.13,412.5 513.6,413.5 523.07,414.07"/>
<polyline fill="none" stroke="#414487" stroke-width="1.1" stroke-linejoin="round" points="486.51,403.77 495.98,409.3 505.45,412.29 514.92,413.36 524.39,414.21"/>
<polyline fill="none" stroke="#2A788E" stroke-width="1.1" stroke-linejoin="round" points="487.84,404.26 497.31,409.16 506.78,411.87 516.25,413.5 525.72,415.19"/>
<polyline fill="none" stroke="#22A884" stroke-width="1.1" stroke-linejoin="round" points="489.16,404.05 498.63,408.94 508.1,411.59 517.57,413.08 527.04,414.7"/>
<polyline fill="none" stroke="#7AD151" stroke-width="1.1" stroke-linejoin="round" points="490.49,403.49 499.96,408.17 509.43,410.61 518.9,411.47 528.37,413.3"/>
<polyline fill="none" stroke="#FDE725" stroke-width="1.1" stroke-linejoin="round" points="491.81,403 501.28,407.89 510.75,410.47 520.22,411.89 529.69,413.93"/>
<circle cx="485.19" cy="403.63" r="1.15" fill="#440154"/>
<circle cx="494.66" cy="409.44" r="1.15" fill="#440154"/>
<circle cx="504.13" cy="412.5" r="1.15" fill="#440154"/>
<circle cx="513.6" cy="413.5" r="1.15" fill="#440154"/>
<circle cx="523.07" cy="414.07" r="1.15" fill="#440154"/>
<circle cx="486.51" cy="403.77" r="1.15" fill="#414487"/>
<circle cx="495.98" cy="409.3" r="1.15" fill="#414487"/>
<circle cx="505.45" cy="412.29" r="1.15" fill="#414487"/>
<circle cx="514.92" cy="413.36" r="1.15" fill="#414487"/>
<circle cx="524.39" cy="414.21" r="1.15" fill="#414487"/>
<circle cx="487.84" cy="404.26" r="1.15" fill="#2A788E"/>
<circle cx="497.31" cy="409.16" r="1.15" fill="#2A788E"/>
<circle cx="506.78" cy="411.87" r="1.15" fill="#2A788E"/>
<circle cx="516.25" cy="413.5" r="1.15" fill="#2A788E"/>
<circle cx="525.72" cy="415.19" r="1.15" fill="#2A788E"/>
<circle cx="489.16" cy="404.05" r="1.15" fill="#22A884"/>
<circle cx="498.63" cy="408.94" r="1.15" fill="#22A884"/>
<circle cx="508.1" cy="411.59" r="1.15" fill="#22A884"/>
<circle cx="517.57" cy="413.08" r="1.15" fill="#22A884"/>
<circle cx="527.04" cy="414.7" r="1.15" fill="#22A884"/>
<circle cx="490.49" cy="403.49" r="1.15" fill="#7AD151"/>
<circle cx="499.96" cy="408.17" r="1.15" fill="#7AD151"/>
<circle cx="509.43" cy="410.61" r="1.15" fill="#7AD151"/>
<circle cx="518.9" cy="411.47" r="1.15" fill="#7AD151"/>
<circle cx="528.37" cy="413.3" r="1.15" fill="#7AD151"/>
<circle cx="491.81" cy="403" r="1.15" fill="#FDE725"/>
<circle cx="501.28" cy="407.89" r="1.15" fill="#FDE725"/>
<circle cx="510.75" cy="410.47" r="1.15" fill="#FDE725"/>
<circle cx="520.22" cy="411.89" r="1.15" fill="#FDE725"/>
<circle cx="529.69" cy="413.93" r="1.15" fill="#FDE725"/>
<polyline fill="none" stroke="#440154" stroke-width="1.1" stroke-linejoin="round" points="367.19,497.3 376.66,495 386.13,489.1 395.6,490.6 405.07,485.5"/>
<polyline fill="none" stroke="#414487" stroke-width="1.1" stroke-linejoin="round" points="368.51,500 377.98,501.2 387.45,490 396.92,491.4 406.39,486.4"/>
<polyline fill="none" stroke="#2A788E" stroke-width="1.1" stroke-linejoin="round" points="369.84,499.1 379.31,498.2 388.78,494.8 398.25,499.7 407.72,498.6"/>
<polyline fill="none" stroke="#22A884" stroke-width="1.1" stroke-linejoin="round" points="371.16,499.1 380.63,501.2 390.1,499.4 399.57,503.9 409.04,503.4"/>
<polyline fill="none" stroke="#7AD151" stroke-width="1.1" stroke-linejoin="round" points="372.49,497.9 381.96,496.4 391.43,491.4 400.9,490.3 410.37,484.5"/>
<polyline fill="none" stroke="#FDE725" stroke-width="1.1" stroke-linejoin="round" points="373.81,498.2 383.28,496.4 392.75,489.5 402.22,495 411.69,488.2"/>
<circle cx="367.19" cy="497.3" r="1.15" fill="#440154"/>
<circle cx="376.66" cy="495" r="1.15" fill="#440154"/>
<circle cx="386.13" cy="489.1" r="1.15" fill="#440154"/>
<circle cx="395.6" cy="490.6" r="1.15" fill="#440154"/>
<circle cx="405.07" cy="485.5" r="1.15" fill="#440154"/>
<circle cx="368.51" cy="500" r="1.15" fill="#414487"/>
<circle cx="377.98" cy="501.2" r="1.15" fill="#414487"/>
<circle cx="387.45" cy="490" r="1.15" fill="#414487"/>
<circle cx="396.92" cy="491.4" r="1.15" fill="#414487"/>
<circle cx="406.39" cy="486.4" r="1.15" fill="#414487"/>
<circle cx="369.84" cy="499.1" r="1.15" fill="#2A788E"/>
<circle cx="379.31" cy="498.2" r="1.15" fill="#2A788E"/>
<circle cx="388.78" cy="494.8" r="1.15" fill="#2A788E"/>
<circle cx="398.25" cy="499.7" r="1.15" fill="#2A788E"/>
<circle cx="407.72" cy="498.6" r="1.15" fill="#2A788E"/>
<circle cx="371.16" cy="499.1" r="1.15" fill="#22A884"/>
<circle cx="380.63" cy="501.2" r="1.15" fill="#22A884"/>
<circle cx="390.1" cy="499.4" r="1.15" fill="#22A884"/>
<circle cx="399.57" cy="503.9" r="1.15" fill="#22A884"/>
<circle cx="409.04" cy="503.4" r="1.15" fill="#22A884"/>
<circle cx="372.49" cy="497.9" r="1.15" fill="#7AD151"/>
<circle cx="381.96" cy="496.4" r="1.15" fill="#7AD151"/>
<circle cx="391.43" cy="491.4" r="1.15" fill="#7AD151"/>
<circle cx="400.9" cy="490.3" r="1.15" fill="#7AD151"/>
<circle cx="410.37" cy="484.5" r="1.15" fill="#7AD151"/>
<circle cx="373.81" cy="498.2" r="1.15" fill="#FDE725"/>
<circle cx="383.28" cy="496.4" r="1.15" fill="#FDE725"/>
<circle cx="392.75" cy="489.5" r="1.15" fill="#FDE725"/>
<circle cx="402.22" cy="495" r="1.15" fill="#FDE725"/>
<circle cx="411.69" cy="488.2" r="1.15" fill="#FDE725"/>
<polyline fill="none" stroke="#440154" stroke-width="1.1" stroke-linejoin="round" points="426.19,489.1 435.66,481.8 445.13,474.2 454.6,464.8 464.07,452.5"/>
<polyline fill="none" stroke="#414487" stroke-width="1.1" stroke-linejoin="round" points="427.51,497.8 436.98,497.5 446.45,497.1 455.92,499.8 465.39,502.1"/>
<polyline fill="none" stroke="#2A788E" stroke-width="1.1" stroke-linejoin="round" points="428.84,496.9 438.31,494.8 447.78,496.4 457.25,495.5 466.72,498.9"/>
<polyline fill="none" stroke="#22A884" stroke-width="1.1" stroke-linejoin="round" points="430.16,497.5 439.63,498.7 449.1,499.6 458.57,501.6 468.04,504.4"/>
<polyline fill="none" stroke="#7AD151" stroke-width="1.1" stroke-linejoin="round" points="431.49,492.7 440.96,488.7 450.43,482.1 459.9,478.9 469.37,481.6"/>
<polyline fill="none" stroke="#FDE725" stroke-width="1.1" stroke-linejoin="round" points="432.81,490.7 442.28,489.8 451.75,488.5 461.22,489.8 470.69,493.9"/>
<circle cx="426.19" cy="489.1" r="1.15" fill="#440154"/>
<circle cx="435.66" cy="481.8" r="1.15" fill="#440154"/>
<circle cx="445.13" cy="474.2" r="1.15" fill="#440154"/>
<circle cx="454.6" cy="464.8" r="1.15" fill="#440154"/>
<circle cx="464.07" cy="452.5" r="1.15" fill="#440154"/>
<circle cx="427.51" cy="497.8" r="1.15" fill="#414487"/>
<circle cx="436.98" cy="497.5" r="1.15" fill="#414487"/>
<circle cx="446.45" cy="497.1" r="1.15" fill="#414487"/>
<circle cx="455.92" cy="499.8" r="1.15" fill="#414487"/>
<circle cx="465.39" cy="502.1" r="1.15" fill="#414487"/>
<circle cx="428.84" cy="496.9" r="1.15" fill="#2A788E"/>
<circle cx="438.31" cy="494.8" r="1.15" fill="#2A788E"/>
<circle cx="447.78" cy="496.4" r="1.15" fill="#2A788E"/>
<circle cx="457.25" cy="495.5" r="1.15" fill="#2A788E"/>
<circle cx="466.72" cy="498.9" r="1.15" fill="#2A788E"/>
<circle cx="430.16" cy="497.5" r="1.15" fill="#22A884"/>
<circle cx="439.63" cy="498.7" r="1.15" fill="#22A884"/>
<circle cx="449.1" cy="499.6" r="1.15" fill="#22A884"/>
<circle cx="458.57" cy="501.6" r="1.15" fill="#22A884"/>
<circle cx="468.04" cy="504.4" r="1.15" fill="#22A884"/>
<circle cx="431.49" cy="492.7" r="1.15" fill="#7AD151"/>
<circle cx="440.96" cy="488.7" r="1.15" fill="#7AD151"/>
<circle cx="450.43" cy="482.1" r="1.15" fill="#7AD151"/>
<circle cx="459.9" cy="478.9" r="1.15" fill="#7AD151"/>
<circle cx="469.37" cy="481.6" r="1.15" fill="#7AD151"/>
<circle cx="432.81" cy="490.7" r="1.15" fill="#FDE725"/>
<circle cx="442.28" cy="489.8" r="1.15" fill="#FDE725"/>
<circle cx="451.75" cy="488.5" r="1.15" fill="#FDE725"/>
<circle cx="461.22" cy="489.8" r="1.15" fill="#FDE725"/>
<circle cx="470.69" cy="493.9" r="1.15" fill="#FDE725"/>
<polyline fill="none" stroke="#440154" stroke-width="1.1" stroke-linejoin="round" points="485.19,504.24 494.66,509.56 504.13,513.83 513.6,515.86 523.07,518.22"/>
<polyline fill="none" stroke="#414487" stroke-width="1.1" stroke-linejoin="round" points="486.51,504.44 495.98,509.29 505.45,513.62 514.92,515.65 524.39,518.36"/>
<polyline fill="none" stroke="#2A788E" stroke-width="1.1" stroke-linejoin="round" points="487.84,505.22 497.31,508.73 506.78,513.83 516.25,516.84 525.72,519.13"/>
<polyline fill="none" stroke="#22A884" stroke-width="1.1" stroke-linejoin="round" points="489.16,505 498.63,508.59 508.1,513.48 517.57,516.49 527.04,518.78"/>
<polyline fill="none" stroke="#7AD151" stroke-width="1.1" stroke-linejoin="round" points="490.49,503.88 499.96,507.32 509.43,512.22 518.9,514.88 528.37,517.24"/>
<polyline fill="none" stroke="#FDE725" stroke-width="1.1" stroke-linejoin="round" points="491.81,504.51 501.28,507.81 510.75,512.22 520.22,514.88 529.69,517.87"/>
<circle cx="485.19" cy="504.24" r="1.15" fill="#440154"/>
<circle cx="494.66" cy="509.56" r="1.15" fill="#440154"/>
<circle cx="504.13" cy="513.83" r="1.15" fill="#440154"/>
<circle cx="513.6" cy="515.86" r="1.15" fill="#440154"/>
<circle cx="523.07" cy="518.22" r="1.15" fill="#440154"/>
<circle cx="486.51" cy="504.44" r="1.15" fill="#414487"/>
<circle cx="495.98" cy="509.29" r="1.15" fill="#414487"/>
<circle cx="505.45" cy="513.62" r="1.15" fill="#414487"/>
<circle cx="514.92" cy="515.65" r="1.15" fill="#414487"/>
<circle cx="524.39" cy="518.36" r="1.15" fill="#414487"/>
<circle cx="487.84" cy="505.22" r="1.15" fill="#2A788E"/>
<circle cx="497.31" cy="508.73" r="1.15" fill="#2A788E"/>
<circle cx="506.78" cy="513.83" r="1.15" fill="#2A788E"/>
<circle cx="516.25" cy="516.84" r="1.15" fill="#2A788E"/>
<circle cx="525.72" cy="519.13" r="1.15" fill="#2A788E"/>
<circle cx="489.16" cy="505" r="1.15" fill="#22A884"/>
<circle cx="498.63" cy="508.59" r="1.15" fill="#22A884"/>
<circle cx="508.1" cy="513.48" r="1.15" fill="#22A884"/>
<circle cx="517.57" cy="516.49" r="1.15" fill="#22A884"/>
<circle cx="527.04" cy="518.78" r="1.15" fill="#22A884"/>
<circle cx="490.49" cy="503.88" r="1.15" fill="#7AD151"/>
<circle cx="499.96" cy="507.32" r="1.15" fill="#7AD151"/>
<circle cx="509.43" cy="512.22" r="1.15" fill="#7AD151"/>
<circle cx="518.9" cy="514.88" r="1.15" fill="#7AD151"/>
<circle cx="528.37" cy="517.24" r="1.15" fill="#7AD151"/>
<circle cx="491.81" cy="504.51" r="1.15" fill="#FDE725"/>
<circle cx="501.28" cy="507.81" r="1.15" fill="#FDE725"/>
<circle cx="510.75" cy="512.22" r="1.15" fill="#FDE725"/>
<circle cx="520.22" cy="514.88" r="1.15" fill="#FDE725"/>
<circle cx="529.69" cy="517.87" r="1.15" fill="#FDE725"/>
<line x1="362.4" x2="416.4" y1="86.3" y2="86.3" stroke="#F2343C" stroke-width="1"/>
<rect x="362.4" y="17.5" width="54" height="97.9" fill="none" stroke="#7d7d7d" stroke-width="1"/>
<line x1="421.4" x2="475.4" y1="86.3" y2="86.3" stroke="#F2343C" stroke-width="1"/>
<rect x="421.4" y="17.5" width="54" height="97.9" fill="none" stroke="#7d7d7d" stroke-width="1"/>
<line x1="480.4" x2="534.4" y1="86.3" y2="86.3" stroke="#F2343C" stroke-width="1"/>
<rect x="480.4" y="17.5" width="54" height="97.9" fill="none" stroke="#7d7d7d" stroke-width="1"/>
<line x1="362.4" x2="416.4" y1="188.9" y2="188.9" stroke="#F2343C" stroke-width="1"/>
<rect x="362.4" y="120.1" width="54" height="97.9" fill="none" stroke="#7d7d7d" stroke-width="1"/>
<line x1="421.4" x2="475.4" y1="188.9" y2="188.9" stroke="#F2343C" stroke-width="1"/>
<rect x="421.4" y="120.1" width="54" height="97.9" fill="none" stroke="#7d7d7d" stroke-width="1"/>
<line x1="480.4" x2="534.4" y1="188.9" y2="188.9" stroke="#F2343C" stroke-width="1"/>
<rect x="480.4" y="120.1" width="54" height="97.9" fill="none" stroke="#7d7d7d" stroke-width="1"/>
<line x1="362.4" x2="416.4" y1="291.5" y2="291.5" stroke="#F2343C" stroke-width="1"/>
<rect x="362.4" y="222.7" width="54" height="97.9" fill="none" stroke="#7d7d7d" stroke-width="1"/>
<line x1="421.4" x2="475.4" y1="291.5" y2="291.5" stroke="#F2343C" stroke-width="1"/>
<rect x="421.4" y="222.7" width="54" height="97.9" fill="none" stroke="#7d7d7d" stroke-width="1"/>
<line x1="480.4" x2="534.4" y1="291.5" y2="291.5" stroke="#F2343C" stroke-width="1"/>
<rect x="480.4" y="222.7" width="54" height="97.9" fill="none" stroke="#7d7d7d" stroke-width="1"/>
<line x1="362.4" x2="416.4" y1="394.1" y2="394.1" stroke="#F2343C" stroke-width="1"/>
<rect x="362.4" y="325.3" width="54" height="97.9" fill="none" stroke="#7d7d7d" stroke-width="1"/>
<line x1="421.4" x2="475.4" y1="394.1" y2="394.1" stroke="#F2343C" stroke-width="1"/>
<rect x="421.4" y="325.3" width="54" height="97.9" fill="none" stroke="#7d7d7d" stroke-width="1"/>
<line x1="480.4" x2="534.4" y1="394.1" y2="394.1" stroke="#F2343C" stroke-width="1"/>
<rect x="480.4" y="325.3" width="54" height="97.9" fill="none" stroke="#7d7d7d" stroke-width="1"/>
<line x1="362.4" x2="416.4" y1="496.7" y2="496.7" stroke="#F2343C" stroke-width="1"/>
<rect x="362.4" y="427.9" width="54" height="97.9" fill="none" stroke="#7d7d7d" stroke-width="1"/>
<line x1="421.4" x2="475.4" y1="496.7" y2="496.7" stroke="#F2343C" stroke-width="1"/>
<rect x="421.4" y="427.9" width="54" height="97.9" fill="none" stroke="#7d7d7d" stroke-width="1"/>
<line x1="480.4" x2="534.4" y1="496.7" y2="496.7" stroke="#F2343C" stroke-width="1"/>
<rect x="480.4" y="427.9" width="54" height="97.9" fill="none" stroke="#7d7d7d" stroke-width="1"/>
<line x1="40.2" x2="42.5" y1="21.57" y2="21.57" stroke="#555" stroke-width="1"/>
<text x="37.7" y="23.67" class="t" font-size="6.0" fill="#3d3d3d" text-anchor="end">100%</text>
<line x1="40.2" x2="42.5" y1="36.51" y2="36.51" stroke="#555" stroke-width="1"/>
<text x="37.7" y="38.61" class="t" font-size="6.0" fill="#3d3d3d" text-anchor="end">50%</text>
<line x1="40.2" x2="42.5" y1="51.45" y2="51.45" stroke="#555" stroke-width="1"/>
<text x="37.7" y="53.55" class="t" font-size="6.0" fill="#3d3d3d" text-anchor="end">0%</text>
<line x1="40.2" x2="42.5" y1="66.39" y2="66.39" stroke="#555" stroke-width="1"/>
<text x="37.7" y="68.49" class="t" font-size="6.0" fill="#3d3d3d" text-anchor="end">-50%</text>
<line x1="40.2" x2="42.5" y1="81.33" y2="81.33" stroke="#555" stroke-width="1"/>
<text x="37.7" y="83.43" class="t" font-size="6.0" fill="#3d3d3d" text-anchor="end">-100%</text>
<line x1="40.2" x2="42.5" y1="96.27" y2="96.27" stroke="#555" stroke-width="1"/>
<text x="37.7" y="98.37" class="t" font-size="6.0" fill="#3d3d3d" text-anchor="end">-150%</text>
<line x1="40.2" x2="42.5" y1="111.21" y2="111.21" stroke="#555" stroke-width="1"/>
<text x="37.7" y="113.31" class="t" font-size="6.0" fill="#3d3d3d" text-anchor="end">-200%</text>
<line x1="40.2" x2="42.5" y1="124.17" y2="124.17" stroke="#555" stroke-width="1"/>
<text x="37.7" y="126.27" class="t" font-size="6.0" fill="#3d3d3d" text-anchor="end">100%</text>
<line x1="40.2" x2="42.5" y1="139.11" y2="139.11" stroke="#555" stroke-width="1"/>
<text x="37.7" y="141.21" class="t" font-size="6.0" fill="#3d3d3d" text-anchor="end">50%</text>
<line x1="40.2" x2="42.5" y1="154.05" y2="154.05" stroke="#555" stroke-width="1"/>
<text x="37.7" y="156.15" class="t" font-size="6.0" fill="#3d3d3d" text-anchor="end">0%</text>
<line x1="40.2" x2="42.5" y1="168.99" y2="168.99" stroke="#555" stroke-width="1"/>
<text x="37.7" y="171.09" class="t" font-size="6.0" fill="#3d3d3d" text-anchor="end">-50%</text>
<line x1="40.2" x2="42.5" y1="183.93" y2="183.93" stroke="#555" stroke-width="1"/>
<text x="37.7" y="186.03" class="t" font-size="6.0" fill="#3d3d3d" text-anchor="end">-100%</text>
<line x1="40.2" x2="42.5" y1="198.87" y2="198.87" stroke="#555" stroke-width="1"/>
<text x="37.7" y="200.97" class="t" font-size="6.0" fill="#3d3d3d" text-anchor="end">-150%</text>
<line x1="40.2" x2="42.5" y1="213.81" y2="213.81" stroke="#555" stroke-width="1"/>
<text x="37.7" y="215.91" class="t" font-size="6.0" fill="#3d3d3d" text-anchor="end">-200%</text>
<line x1="40.2" x2="42.5" y1="226.77" y2="226.77" stroke="#555" stroke-width="1"/>
<text x="37.7" y="228.87" class="t" font-size="6.0" fill="#3d3d3d" text-anchor="end">100%</text>
<line x1="40.2" x2="42.5" y1="241.71" y2="241.71" stroke="#555" stroke-width="1"/>
<text x="37.7" y="243.81" class="t" font-size="6.0" fill="#3d3d3d" text-anchor="end">50%</text>
<line x1="40.2" x2="42.5" y1="256.65" y2="256.65" stroke="#555" stroke-width="1"/>
<text x="37.7" y="258.75" class="t" font-size="6.0" fill="#3d3d3d" text-anchor="end">0%</text>
<line x1="40.2" x2="42.5" y1="271.59" y2="271.59" stroke="#555" stroke-width="1"/>
<text x="37.7" y="273.69" class="t" font-size="6.0" fill="#3d3d3d" text-anchor="end">-50%</text>
<line x1="40.2" x2="42.5" y1="286.53" y2="286.53" stroke="#555" stroke-width="1"/>
<text x="37.7" y="288.63" class="t" font-size="6.0" fill="#3d3d3d" text-anchor="end">-100%</text>
<line x1="40.2" x2="42.5" y1="301.47" y2="301.47" stroke="#555" stroke-width="1"/>
<text x="37.7" y="303.57" class="t" font-size="6.0" fill="#3d3d3d" text-anchor="end">-150%</text>
<line x1="40.2" x2="42.5" y1="316.41" y2="316.41" stroke="#555" stroke-width="1"/>
<text x="37.7" y="318.51" class="t" font-size="6.0" fill="#3d3d3d" text-anchor="end">-200%</text>
<line x1="40.2" x2="42.5" y1="329.37" y2="329.37" stroke="#555" stroke-width="1"/>
<text x="37.7" y="331.47" class="t" font-size="6.0" fill="#3d3d3d" text-anchor="end">100%</text>
<line x1="40.2" x2="42.5" y1="344.31" y2="344.31" stroke="#555" stroke-width="1"/>
<text x="37.7" y="346.41" class="t" font-size="6.0" fill="#3d3d3d" text-anchor="end">50%</text>
<line x1="40.2" x2="42.5" y1="359.25" y2="359.25" stroke="#555" stroke-width="1"/>
<text x="37.7" y="361.35" class="t" font-size="6.0" fill="#3d3d3d" text-anchor="end">0%</text>
<line x1="40.2" x2="42.5" y1="374.19" y2="374.19" stroke="#555" stroke-width="1"/>
<text x="37.7" y="376.29" class="t" font-size="6.0" fill="#3d3d3d" text-anchor="end">-50%</text>
<line x1="40.2" x2="42.5" y1="389.13" y2="389.13" stroke="#555" stroke-width="1"/>
<text x="37.7" y="391.23" class="t" font-size="6.0" fill="#3d3d3d" text-anchor="end">-100%</text>
<line x1="40.2" x2="42.5" y1="404.07" y2="404.07" stroke="#555" stroke-width="1"/>
<text x="37.7" y="406.17" class="t" font-size="6.0" fill="#3d3d3d" text-anchor="end">-150%</text>
<line x1="40.2" x2="42.5" y1="419.01" y2="419.01" stroke="#555" stroke-width="1"/>
<text x="37.7" y="421.11" class="t" font-size="6.0" fill="#3d3d3d" text-anchor="end">-200%</text>
<line x1="40.2" x2="42.5" y1="431.97" y2="431.97" stroke="#555" stroke-width="1"/>
<text x="37.7" y="434.07" class="t" font-size="6.0" fill="#3d3d3d" text-anchor="end">100%</text>
<line x1="40.2" x2="42.5" y1="446.91" y2="446.91" stroke="#555" stroke-width="1"/>
<text x="37.7" y="449.01" class="t" font-size="6.0" fill="#3d3d3d" text-anchor="end">50%</text>
<line x1="40.2" x2="42.5" y1="461.85" y2="461.85" stroke="#555" stroke-width="1"/>
<text x="37.7" y="463.95" class="t" font-size="6.0" fill="#3d3d3d" text-anchor="end">0%</text>
<line x1="40.2" x2="42.5" y1="476.79" y2="476.79" stroke="#555" stroke-width="1"/>
<text x="37.7" y="478.89" class="t" font-size="6.0" fill="#3d3d3d" text-anchor="end">-50%</text>
<line x1="40.2" x2="42.5" y1="491.73" y2="491.73" stroke="#555" stroke-width="1"/>
<text x="37.7" y="493.83" class="t" font-size="6.0" fill="#3d3d3d" text-anchor="end">-100%</text>
<line x1="40.2" x2="42.5" y1="506.67" y2="506.67" stroke="#555" stroke-width="1"/>
<text x="37.7" y="508.77" class="t" font-size="6.0" fill="#3d3d3d" text-anchor="end">-150%</text>
<line x1="40.2" x2="42.5" y1="521.61" y2="521.61" stroke="#555" stroke-width="1"/>
<text x="37.7" y="523.71" class="t" font-size="6.0" fill="#3d3d3d" text-anchor="end">-200%</text>
<line x1="360.1" x2="362.4" y1="24.6" y2="24.6" stroke="#555" stroke-width="1"/>
<text x="358.1" y="26.7" class="t" font-size="6.0" fill="#3d3d3d" text-anchor="end">250%</text>
<line x1="360.1" x2="362.4" y1="36.94" y2="36.94" stroke="#555" stroke-width="1"/>
<text x="358.1" y="39.04" class="t" font-size="6.0" fill="#3d3d3d" text-anchor="end">200%</text>
<line x1="360.1" x2="362.4" y1="49.28" y2="49.28" stroke="#555" stroke-width="1"/>
<text x="358.1" y="51.38" class="t" font-size="6.0" fill="#3d3d3d" text-anchor="end">150%</text>
<line x1="360.1" x2="362.4" y1="61.62" y2="61.62" stroke="#555" stroke-width="1"/>
<text x="358.1" y="63.72" class="t" font-size="6.0" fill="#3d3d3d" text-anchor="end">100%</text>
<line x1="360.1" x2="362.4" y1="73.96" y2="73.96" stroke="#555" stroke-width="1"/>
<text x="358.1" y="76.06" class="t" font-size="6.0" fill="#3d3d3d" text-anchor="end">50%</text>
<line x1="360.1" x2="362.4" y1="86.3" y2="86.3" stroke="#555" stroke-width="1"/>
<text x="358.1" y="88.4" class="t" font-size="6.0" fill="#3d3d3d" text-anchor="end">0%</text>
<line x1="360.1" x2="362.4" y1="98.64" y2="98.64" stroke="#555" stroke-width="1"/>
<text x="358.1" y="100.74" class="t" font-size="6.0" fill="#3d3d3d" text-anchor="end">-50%</text>
<line x1="360.1" x2="362.4" y1="110.98" y2="110.98" stroke="#555" stroke-width="1"/>
<text x="358.1" y="113.08" class="t" font-size="6.0" fill="#3d3d3d" text-anchor="end">-100%</text>
<line x1="360.1" x2="362.4" y1="127.2" y2="127.2" stroke="#555" stroke-width="1"/>
<text x="358.1" y="129.3" class="t" font-size="6.0" fill="#3d3d3d" text-anchor="end">250%</text>
<line x1="360.1" x2="362.4" y1="139.54" y2="139.54" stroke="#555" stroke-width="1"/>
<text x="358.1" y="141.64" class="t" font-size="6.0" fill="#3d3d3d" text-anchor="end">200%</text>
<line x1="360.1" x2="362.4" y1="151.88" y2="151.88" stroke="#555" stroke-width="1"/>
<text x="358.1" y="153.98" class="t" font-size="6.0" fill="#3d3d3d" text-anchor="end">150%</text>
<line x1="360.1" x2="362.4" y1="164.22" y2="164.22" stroke="#555" stroke-width="1"/>
<text x="358.1" y="166.32" class="t" font-size="6.0" fill="#3d3d3d" text-anchor="end">100%</text>
<line x1="360.1" x2="362.4" y1="176.56" y2="176.56" stroke="#555" stroke-width="1"/>
<text x="358.1" y="178.66" class="t" font-size="6.0" fill="#3d3d3d" text-anchor="end">50%</text>
<line x1="360.1" x2="362.4" y1="188.9" y2="188.9" stroke="#555" stroke-width="1"/>
<text x="358.1" y="191" class="t" font-size="6.0" fill="#3d3d3d" text-anchor="end">0%</text>
<line x1="360.1" x2="362.4" y1="201.24" y2="201.24" stroke="#555" stroke-width="1"/>
<text x="358.1" y="203.34" class="t" font-size="6.0" fill="#3d3d3d" text-anchor="end">-50%</text>
<line x1="360.1" x2="362.4" y1="213.58" y2="213.58" stroke="#555" stroke-width="1"/>
<text x="358.1" y="215.68" class="t" font-size="6.0" fill="#3d3d3d" text-anchor="end">-100%</text>
<line x1="360.1" x2="362.4" y1="229.8" y2="229.8" stroke="#555" stroke-width="1"/>
<text x="358.1" y="231.9" class="t" font-size="6.0" fill="#3d3d3d" text-anchor="end">250%</text>
<line x1="360.1" x2="362.4" y1="242.14" y2="242.14" stroke="#555" stroke-width="1"/>
<text x="358.1" y="244.24" class="t" font-size="6.0" fill="#3d3d3d" text-anchor="end">200%</text>
<line x1="360.1" x2="362.4" y1="254.48" y2="254.48" stroke="#555" stroke-width="1"/>
<text x="358.1" y="256.58" class="t" font-size="6.0" fill="#3d3d3d" text-anchor="end">150%</text>
<line x1="360.1" x2="362.4" y1="266.82" y2="266.82" stroke="#555" stroke-width="1"/>
<text x="358.1" y="268.92" class="t" font-size="6.0" fill="#3d3d3d" text-anchor="end">100%</text>
<line x1="360.1" x2="362.4" y1="279.16" y2="279.16" stroke="#555" stroke-width="1"/>
<text x="358.1" y="281.26" class="t" font-size="6.0" fill="#3d3d3d" text-anchor="end">50%</text>
<line x1="360.1" x2="362.4" y1="291.5" y2="291.5" stroke="#555" stroke-width="1"/>
<text x="358.1" y="293.6" class="t" font-size="6.0" fill="#3d3d3d" text-anchor="end">0%</text>
<line x1="360.1" x2="362.4" y1="303.84" y2="303.84" stroke="#555" stroke-width="1"/>
<text x="358.1" y="305.94" class="t" font-size="6.0" fill="#3d3d3d" text-anchor="end">-50%</text>
<line x1="360.1" x2="362.4" y1="316.18" y2="316.18" stroke="#555" stroke-width="1"/>
<text x="358.1" y="318.28" class="t" font-size="6.0" fill="#3d3d3d" text-anchor="end">-100%</text>
<line x1="360.1" x2="362.4" y1="332.4" y2="332.4" stroke="#555" stroke-width="1"/>
<text x="358.1" y="334.5" class="t" font-size="6.0" fill="#3d3d3d" text-anchor="end">250%</text>
<line x1="360.1" x2="362.4" y1="344.74" y2="344.74" stroke="#555" stroke-width="1"/>
<text x="358.1" y="346.84" class="t" font-size="6.0" fill="#3d3d3d" text-anchor="end">200%</text>
<line x1="360.1" x2="362.4" y1="357.08" y2="357.08" stroke="#555" stroke-width="1"/>
<text x="358.1" y="359.18" class="t" font-size="6.0" fill="#3d3d3d" text-anchor="end">150%</text>
<line x1="360.1" x2="362.4" y1="369.42" y2="369.42" stroke="#555" stroke-width="1"/>
<text x="358.1" y="371.52" class="t" font-size="6.0" fill="#3d3d3d" text-anchor="end">100%</text>
<line x1="360.1" x2="362.4" y1="381.76" y2="381.76" stroke="#555" stroke-width="1"/>
<text x="358.1" y="383.86" class="t" font-size="6.0" fill="#3d3d3d" text-anchor="end">50%</text>
<line x1="360.1" x2="362.4" y1="394.1" y2="394.1" stroke="#555" stroke-width="1"/>
<text x="358.1" y="396.2" class="t" font-size="6.0" fill="#3d3d3d" text-anchor="end">0%</text>
<line x1="360.1" x2="362.4" y1="406.44" y2="406.44" stroke="#555" stroke-width="1"/>
<text x="358.1" y="408.54" class="t" font-size="6.0" fill="#3d3d3d" text-anchor="end">-50%</text>
<line x1="360.1" x2="362.4" y1="418.78" y2="418.78" stroke="#555" stroke-width="1"/>
<text x="358.1" y="420.88" class="t" font-size="6.0" fill="#3d3d3d" text-anchor="end">-100%</text>
<line x1="360.1" x2="362.4" y1="435" y2="435" stroke="#555" stroke-width="1"/>
<text x="358.1" y="437.1" class="t" font-size="6.0" fill="#3d3d3d" text-anchor="end">250%</text>
<line x1="360.1" x2="362.4" y1="447.34" y2="447.34" stroke="#555" stroke-width="1"/>
<text x="358.1" y="449.44" class="t" font-size="6.0" fill="#3d3d3d" text-anchor="end">200%</text>
<line x1="360.1" x2="362.4" y1="459.68" y2="459.68" stroke="#555" stroke-width="1"/>
<text x="358.1" y="461.78" class="t" font-size="6.0" fill="#3d3d3d" text-anchor="end">150%</text>
<line x1="360.1" x2="362.4" y1="472.02" y2="472.02" stroke="#555" stroke-width="1"/>
<text x="358.1" y="474.12" class="t" font-size="6.0" fill="#3d3d3d" text-anchor="end">100%</text>
<line x1="360.1" x2="362.4" y1="484.36" y2="484.36" stroke="#555" stroke-width="1"/>
<text x="358.1" y="486.46" class="t" font-size="6.0" fill="#3d3d3d" text-anchor="end">50%</text>
<line x1="360.1" x2="362.4" y1="496.7" y2="496.7" stroke="#555" stroke-width="1"/>
<text x="358.1" y="498.8" class="t" font-size="6.0" fill="#3d3d3d" text-anchor="end">0%</text>
<line x1="360.1" x2="362.4" y1="509.04" y2="509.04" stroke="#555" stroke-width="1"/>
<text x="358.1" y="511.14" class="t" font-size="6.0" fill="#3d3d3d" text-anchor="end">-50%</text>
<line x1="360.1" x2="362.4" y1="521.38" y2="521.38" stroke="#555" stroke-width="1"/>
<text x="358.1" y="523.48" class="t" font-size="6.0" fill="#3d3d3d" text-anchor="end">-100%</text>
<line x1="51.3" x2="51.3" y1="525.8" y2="528.1" stroke="#555" stroke-width="1"/>
<text x="51.3" y="534.4" class="t" font-size="6.0" fill="#3d3d3d" text-anchor="middle">10</text>
<line x1="61.3" x2="61.3" y1="525.8" y2="528.1" stroke="#555" stroke-width="1"/>
<text x="61.3" y="534.4" class="t" font-size="6.0" fill="#3d3d3d" text-anchor="middle">20</text>
<line x1="71.3" x2="71.3" y1="525.8" y2="528.1" stroke="#555" stroke-width="1"/>
<text x="71.3" y="534.4" class="t" font-size="6.0" fill="#3d3d3d" text-anchor="middle">30</text>
<line x1="81.3" x2="81.3" y1="525.8" y2="528.1" stroke="#555" stroke-width="1"/>
<text x="81.3" y="534.4" class="t" font-size="6.0" fill="#3d3d3d" text-anchor="middle">40</text>
<line x1="91.3" x2="91.3" y1="525.8" y2="528.1" stroke="#555" stroke-width="1"/>
<text x="91.3" y="534.4" class="t" font-size="6.0" fill="#3d3d3d" text-anchor="middle">50</text>
<line x1="114.3" x2="114.3" y1="525.8" y2="528.1" stroke="#555" stroke-width="1"/>
<text x="114.3" y="534.4" class="t" font-size="6.0" fill="#3d3d3d" text-anchor="middle">10</text>
<line x1="124.3" x2="124.3" y1="525.8" y2="528.1" stroke="#555" stroke-width="1"/>
<text x="124.3" y="534.4" class="t" font-size="6.0" fill="#3d3d3d" text-anchor="middle">20</text>
<line x1="134.3" x2="134.3" y1="525.8" y2="528.1" stroke="#555" stroke-width="1"/>
<text x="134.3" y="534.4" class="t" font-size="6.0" fill="#3d3d3d" text-anchor="middle">30</text>
<line x1="144.3" x2="144.3" y1="525.8" y2="528.1" stroke="#555" stroke-width="1"/>
<text x="144.3" y="534.4" class="t" font-size="6.0" fill="#3d3d3d" text-anchor="middle">40</text>
<line x1="154.3" x2="154.3" y1="525.8" y2="528.1" stroke="#555" stroke-width="1"/>
<text x="154.3" y="534.4" class="t" font-size="6.0" fill="#3d3d3d" text-anchor="middle">50</text>
<line x1="177.3" x2="177.3" y1="525.8" y2="528.1" stroke="#555" stroke-width="1"/>
<text x="177.3" y="534.4" class="t" font-size="6.0" fill="#3d3d3d" text-anchor="middle">10</text>
<line x1="187.3" x2="187.3" y1="525.8" y2="528.1" stroke="#555" stroke-width="1"/>
<text x="187.3" y="534.4" class="t" font-size="6.0" fill="#3d3d3d" text-anchor="middle">20</text>
<line x1="197.3" x2="197.3" y1="525.8" y2="528.1" stroke="#555" stroke-width="1"/>
<text x="197.3" y="534.4" class="t" font-size="6.0" fill="#3d3d3d" text-anchor="middle">30</text>
<line x1="207.3" x2="207.3" y1="525.8" y2="528.1" stroke="#555" stroke-width="1"/>
<text x="207.3" y="534.4" class="t" font-size="6.0" fill="#3d3d3d" text-anchor="middle">40</text>
<line x1="217.3" x2="217.3" y1="525.8" y2="528.1" stroke="#555" stroke-width="1"/>
<text x="217.3" y="534.4" class="t" font-size="6.0" fill="#3d3d3d" text-anchor="middle">50</text>
<line x1="370.5" x2="370.5" y1="525.8" y2="528.1" stroke="#555" stroke-width="1"/>
<text x="370.5" y="534.4" class="t" font-size="6.0" fill="#3d3d3d" text-anchor="middle">10</text>
<line x1="379.97" x2="379.97" y1="525.8" y2="528.1" stroke="#555" stroke-width="1"/>
<text x="379.97" y="534.4" class="t" font-size="6.0" fill="#3d3d3d" text-anchor="middle">20</text>
<line x1="389.44" x2="389.44" y1="525.8" y2="528.1" stroke="#555" stroke-width="1"/>
<text x="389.44" y="534.4" class="t" font-size="6.0" fill="#3d3d3d" text-anchor="middle">30</text>
<line x1="398.91" x2="398.91" y1="525.8" y2="528.1" stroke="#555" stroke-width="1"/>
<text x="398.91" y="534.4" class="t" font-size="6.0" fill="#3d3d3d" text-anchor="middle">40</text>
<line x1="408.38" x2="408.38" y1="525.8" y2="528.1" stroke="#555" stroke-width="1"/>
<text x="408.38" y="534.4" class="t" font-size="6.0" fill="#3d3d3d" text-anchor="middle">50</text>
<line x1="429.5" x2="429.5" y1="525.8" y2="528.1" stroke="#555" stroke-width="1"/>
<text x="429.5" y="534.4" class="t" font-size="6.0" fill="#3d3d3d" text-anchor="middle">10</text>
<line x1="438.97" x2="438.97" y1="525.8" y2="528.1" stroke="#555" stroke-width="1"/>
<text x="438.97" y="534.4" class="t" font-size="6.0" fill="#3d3d3d" text-anchor="middle">20</text>
<line x1="448.44" x2="448.44" y1="525.8" y2="528.1" stroke="#555" stroke-width="1"/>
<text x="448.44" y="534.4" class="t" font-size="6.0" fill="#3d3d3d" text-anchor="middle">30</text>
<line x1="457.91" x2="457.91" y1="525.8" y2="528.1" stroke="#555" stroke-width="1"/>
<text x="457.91" y="534.4" class="t" font-size="6.0" fill="#3d3d3d" text-anchor="middle">40</text>
<line x1="467.38" x2="467.38" y1="525.8" y2="528.1" stroke="#555" stroke-width="1"/>
<text x="467.38" y="534.4" class="t" font-size="6.0" fill="#3d3d3d" text-anchor="middle">50</text>
<line x1="488.5" x2="488.5" y1="525.8" y2="528.1" stroke="#555" stroke-width="1"/>
<text x="488.5" y="534.4" class="t" font-size="6.0" fill="#3d3d3d" text-anchor="middle">10</text>
<line x1="497.97" x2="497.97" y1="525.8" y2="528.1" stroke="#555" stroke-width="1"/>
<text x="497.97" y="534.4" class="t" font-size="6.0" fill="#3d3d3d" text-anchor="middle">20</text>
<line x1="507.44" x2="507.44" y1="525.8" y2="528.1" stroke="#555" stroke-width="1"/>
<text x="507.44" y="534.4" class="t" font-size="6.0" fill="#3d3d3d" text-anchor="middle">30</text>
<line x1="516.91" x2="516.91" y1="525.8" y2="528.1" stroke="#555" stroke-width="1"/>
<text x="516.91" y="534.4" class="t" font-size="6.0" fill="#3d3d3d" text-anchor="middle">40</text>
<line x1="526.38" x2="526.38" y1="525.8" y2="528.1" stroke="#555" stroke-width="1"/>
<text x="526.38" y="534.4" class="t" font-size="6.0" fill="#3d3d3d" text-anchor="middle">50</text>
<text x="71.5" y="12.9" class="s" font-size="7.6" fill="#1A1A1A" text-anchor="middle">MCAR</text>
<text x="134.5" y="12.9" class="s" font-size="7.6" fill="#1A1A1A" text-anchor="middle">MAR</text>
<text x="197.5" y="12.9" class="s" font-size="7.6" fill="#1A1A1A" text-anchor="middle">NMAR</text>
<text x="389.4" y="12.9" class="s" font-size="7.6" fill="#1A1A1A" text-anchor="middle">MCAR</text>
<text x="448.4" y="12.9" class="s" font-size="7.6" fill="#1A1A1A" text-anchor="middle">MAR</text>
<text x="507.4" y="12.9" class="s" font-size="7.6" fill="#1A1A1A" text-anchor="middle">NMAR</text>
<text transform="translate(230.4,66.45) rotate(90)" x="0" y="0" class="s" font-size="7.6" fill="#1A1A1A" text-anchor="middle">2000</text>
<text transform="translate(230.4,169.05) rotate(90)" x="0" y="0" class="s" font-size="7.6" fill="#1A1A1A" text-anchor="middle">1000</text>
<text transform="translate(230.4,271.65) rotate(90)" x="0" y="0" class="s" font-size="7.6" fill="#1A1A1A" text-anchor="middle">500</text>
<text transform="translate(230.4,374.25) rotate(90)" x="0" y="0" class="s" font-size="7.6" fill="#1A1A1A" text-anchor="middle">250</text>
<text transform="translate(230.4,476.85) rotate(90)" x="0" y="0" class="s" font-size="7.6" fill="#1A1A1A" text-anchor="middle">100</text>
<text transform="translate(538.7,66.45) rotate(90)" x="0" y="0" class="s" font-size="7.6" fill="#1A1A1A" text-anchor="middle">2000</text>
<text transform="translate(538.7,169.05) rotate(90)" x="0" y="0" class="s" font-size="7.6" fill="#1A1A1A" text-anchor="middle">1000</text>
<text transform="translate(538.7,271.65) rotate(90)" x="0" y="0" class="s" font-size="7.6" fill="#1A1A1A" text-anchor="middle">500</text>
<text transform="translate(538.7,374.25) rotate(90)" x="0" y="0" class="s" font-size="7.6" fill="#1A1A1A" text-anchor="middle">250</text>
<text transform="translate(538.7,476.85) rotate(90)" x="0" y="0" class="s" font-size="7.6" fill="#1A1A1A" text-anchor="middle">100</text>
<text x="134.5" y="546" class="k" font-size="7.65" fill="#000" text-anchor="middle">Data Missingness (%)</text>
<text x="448.4" y="546" class="k" font-size="7.65" fill="#000" text-anchor="middle">Data Missingness (%)</text>
<text transform="translate(11.3,271.3) rotate(-90)" class="k" font-size="7.65" fill="#000" text-anchor="middle">% difference in β</text>
<text transform="translate(331.0,271) rotate(-90)" class="k" font-size="7.65" fill="#000" text-anchor="middle">% difference in width of the 95% CI</text>
<text x="5.3" y="10.8" font-size="10.6" font-weight="bold" fill="#000" stroke="#000" stroke-width="0.2">A</text>
<text x="325.5" y="10.8" font-size="10.6" font-weight="bold" fill="#000" stroke="#000" stroke-width="0.2">B</text>
<text x="253.2" y="232.2" class="k" font-size="6" fill="#000">Method</text>
<rect x="253" y="235.8" width="12.5" height="79.8" fill="#F2F2F2"/>
<line x1="254" x2="264.6" y1="242.8" y2="242.8" stroke="#440154" stroke-width="1.1"/>
<circle cx="259.4" cy="242.8" r="1.3" fill="#440154"/>
<text x="269.2" y="244.9" class="k" font-size="6" fill="#000">CCA</text>
<line x1="254" x2="264.6" y1="256" y2="256" stroke="#414487" stroke-width="1.1"/>
<circle cx="259.4" cy="256" r="1.3" fill="#414487"/>
<text x="269.2" y="258.1" class="k" font-size="6" fill="#000">PMM</text>
<line x1="254" x2="264.6" y1="269.2" y2="269.2" stroke="#2A788E" stroke-width="1.1"/>
<circle cx="259.4" cy="269.2" r="1.3" fill="#2A788E"/>
<text x="269.2" y="271.3" class="k" font-size="6" fill="#000">kNN</text>
<line x1="254" x2="264.6" y1="282.4" y2="282.4" stroke="#22A884" stroke-width="1.1"/>
<circle cx="259.4" cy="282.4" r="1.3" fill="#22A884"/>
<text x="269.2" y="284.5" class="k" font-size="6" fill="#000">MRF</text>
<line x1="254" x2="264.6" y1="295.6" y2="295.6" stroke="#7AD151" stroke-width="1.1"/>
<circle cx="259.4" cy="295.6" r="1.3" fill="#7AD151"/>
<text x="269.2" y="297.7" class="k" font-size="6" fill="#000">MICE-PMM</text>
<line x1="254" x2="264.6" y1="308.8" y2="308.8" stroke="#FDE725" stroke-width="1.1"/>
<circle cx="259.4" cy="308.8" r="1.3" fill="#FDE725"/>
<text x="269.2" y="310.9" class="k" font-size="6" fill="#000">MICE-SAMPLE</text>
</svg></body></html>
